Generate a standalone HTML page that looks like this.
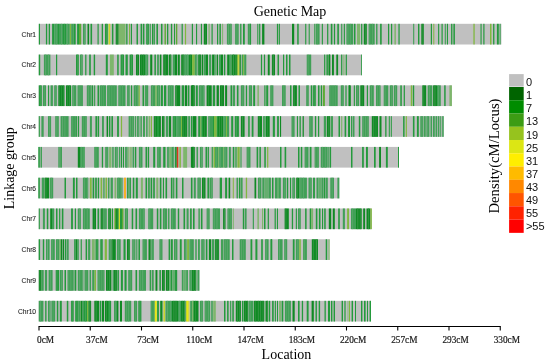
<!DOCTYPE html><html><head><meta charset="utf-8"><style>html,body{margin:0;padding:0;background:#fff;width:550px;height:364px;overflow:hidden}svg{display:block}</style></head><body><svg width="550" height="364" viewBox="0 0 550 364">
<rect width="550" height="364" fill="#fff"/>
<text x="290" y="16" font-family="Liberation Serif, serif" font-size="14" text-anchor="middle" fill="#000">Genetic Map</text>
<rect x="38.6" y="23.80" width="462.80" height="20.7" fill="#c0c0c0"/>
<rect x="38.9" y="23.80" width="1.10" height="20.7" fill="#249a3c"/>
<rect x="45.9" y="23.80" width="1.30" height="20.7" fill="#249a3c"/>
<rect x="97.5" y="23.80" width="1.20" height="20.7" fill="#249a3c"/>
<rect x="101.7" y="23.80" width="1.30" height="20.7" fill="#249a3c"/>
<rect x="105.0" y="23.80" width="2.80" height="20.7" fill="#249a3c"/>
<rect x="106.09" y="23.80" width="0.58" height="20.7" fill="#4ba45d"/>
<rect x="108.5" y="23.80" width="1.80" height="20.7" fill="#c8d62a"/>
<rect x="111.9" y="23.80" width="1.50" height="20.7" fill="#249a3c"/>
<rect x="115.7" y="23.80" width="3.00" height="20.7" fill="#108a24"/>
<rect x="116.64" y="23.80" width="0.77" height="20.7" fill="#3c984b"/>
<rect x="118.7" y="23.80" width="6.80" height="20.7" fill="#7eb66c"/>
<rect x="126.2" y="23.80" width="1.30" height="20.7" fill="#249a3c"/>
<rect x="129.0" y="23.80" width="1.00" height="20.7" fill="#80b840"/>
<rect x="130.8" y="23.80" width="1.20" height="20.7" fill="#249a3c"/>
<rect x="136.5" y="23.80" width="1.50" height="20.7" fill="#249a3c"/>
<rect x="140.6" y="23.80" width="1.50" height="20.7" fill="#249a3c"/>
<rect x="142.9" y="23.80" width="1.50" height="20.7" fill="#249a3c"/>
<rect x="146.2" y="23.80" width="2.70" height="20.7" fill="#249a3c"/>
<rect x="147.13" y="23.80" width="0.75" height="20.7" fill="#4ba45d"/>
<rect x="149.7" y="23.80" width="1.00" height="20.7" fill="#249a3c"/>
<rect x="152.0" y="23.80" width="1.50" height="20.7" fill="#249a3c"/>
<rect x="153.8" y="23.80" width="1.20" height="20.7" fill="#40a056"/>
<rect x="156.4" y="23.80" width="1.60" height="20.7" fill="#249a3c"/>
<rect x="161.0" y="23.80" width="1.50" height="20.7" fill="#249a3c"/>
<rect x="164.5" y="23.80" width="1.40" height="20.7" fill="#5caa34"/>
<rect x="167.0" y="23.80" width="1.30" height="20.7" fill="#249a3c"/>
<rect x="170.9" y="23.80" width="1.30" height="20.7" fill="#249a3c"/>
<rect x="174.6" y="23.80" width="0.40" height="20.7" fill="#249a3c"/>
<rect x="174.0" y="23.80" width="1.00" height="20.7" fill="#249a3c"/>
<rect x="175.9" y="23.80" width="1.40" height="20.7" fill="#5caa34"/>
<rect x="181.6" y="23.80" width="1.20" height="20.7" fill="#249a3c"/>
<rect x="184.9" y="23.80" width="1.20" height="20.7" fill="#80b840"/>
<rect x="191.8" y="23.80" width="1.20" height="20.7" fill="#249a3c"/>
<rect x="196.0" y="23.80" width="1.10" height="20.7" fill="#249a3c"/>
<rect x="200.9" y="23.80" width="1.10" height="20.7" fill="#249a3c"/>
<rect x="203.8" y="23.80" width="3.20" height="20.7" fill="#108a24"/>
<rect x="204.96" y="23.80" width="0.53" height="20.7" fill="#3c984b"/>
<rect x="208.5" y="23.80" width="1.20" height="20.7" fill="#7eb66c"/>
<rect x="211.5" y="23.80" width="1.20" height="20.7" fill="#249a3c"/>
<rect x="217.0" y="23.80" width="1.20" height="20.7" fill="#249a3c"/>
<rect x="219.4" y="23.80" width="1.50" height="20.7" fill="#249a3c"/>
<rect x="222.1" y="23.80" width="1.00" height="20.7" fill="#7eb66c"/>
<rect x="226.9" y="23.80" width="4.90" height="20.7" fill="#40a056"/>
<rect x="228.05" y="23.80" width="0.91" height="20.7" fill="#60a870"/>
<rect x="230.32" y="23.80" width="0.61" height="20.7" fill="#60a870"/>
<rect x="235.1" y="23.80" width="3.60" height="20.7" fill="#40a056"/>
<rect x="236.57" y="23.80" width="0.79" height="20.7" fill="#60a870"/>
<rect x="240.2" y="23.80" width="1.20" height="20.7" fill="#249a3c"/>
<rect x="243.0" y="23.80" width="1.80" height="20.7" fill="#249a3c"/>
<rect x="247.8" y="23.80" width="3.30" height="20.7" fill="#40a056"/>
<rect x="249.29" y="23.80" width="0.52" height="20.7" fill="#60a870"/>
<rect x="250.0" y="23.80" width="0.90" height="20.7" fill="#249a3c"/>
<rect x="257.3" y="23.80" width="1.00" height="20.7" fill="#249a3c"/>
<rect x="259.1" y="23.80" width="1.20" height="20.7" fill="#249a3c"/>
<rect x="262.1" y="23.80" width="2.30" height="20.7" fill="#108a24"/>
<rect x="276.9" y="23.80" width="1.10" height="20.7" fill="#249a3c"/>
<rect x="278.7" y="23.80" width="1.20" height="20.7" fill="#249a3c"/>
<rect x="292.0" y="23.80" width="2.20" height="20.7" fill="#108a24"/>
<rect x="297.2" y="23.80" width="1.50" height="20.7" fill="#249a3c"/>
<rect x="305.2" y="23.80" width="1.10" height="20.7" fill="#249a3c"/>
<rect x="308.7" y="23.80" width="1.00" height="20.7" fill="#249a3c"/>
<rect x="314.3" y="23.80" width="1.00" height="20.7" fill="#249a3c"/>
<rect x="315.8" y="23.80" width="3.80" height="20.7" fill="#40a056"/>
<rect x="316.87" y="23.80" width="0.57" height="20.7" fill="#60a870"/>
<rect x="321.8" y="23.80" width="1.10" height="20.7" fill="#249a3c"/>
<rect x="327.1" y="23.80" width="1.20" height="20.7" fill="#249a3c"/>
<rect x="330.8" y="23.80" width="1.60" height="20.7" fill="#249a3c"/>
<rect x="333.9" y="23.80" width="1.20" height="20.7" fill="#249a3c"/>
<rect x="337.3" y="23.80" width="1.60" height="20.7" fill="#249a3c"/>
<rect x="341.1" y="23.80" width="1.20" height="20.7" fill="#40a056"/>
<rect x="343.8" y="23.80" width="1.10" height="20.7" fill="#249a3c"/>
<rect x="346.4" y="23.80" width="6.80" height="20.7" fill="#40a056"/>
<rect x="347.49" y="23.80" width="0.91" height="20.7" fill="#60a870"/>
<rect x="349.81" y="23.80" width="0.79" height="20.7" fill="#60a870"/>
<rect x="354.0" y="23.80" width="1.50" height="20.7" fill="#249a3c"/>
<rect x="357.0" y="23.80" width="3.00" height="20.7" fill="#7eb66c"/>
<rect x="361.1" y="23.80" width="1.20" height="20.7" fill="#249a3c"/>
<rect x="363.8" y="23.80" width="3.00" height="20.7" fill="#108a24"/>
<rect x="364.92" y="23.80" width="0.77" height="20.7" fill="#3c984b"/>
<rect x="368.6" y="23.80" width="6.10" height="20.7" fill="#40a056"/>
<rect x="369.54" y="23.80" width="0.60" height="20.7" fill="#60a870"/>
<rect x="372.16" y="23.80" width="0.71" height="20.7" fill="#60a870"/>
<rect x="376.2" y="23.80" width="1.20" height="20.7" fill="#249a3c"/>
<rect x="380.1" y="23.80" width="1.60" height="20.7" fill="#249a3c"/>
<rect x="388.0" y="23.80" width="1.20" height="20.7" fill="#249a3c"/>
<rect x="391.0" y="23.80" width="1.20" height="20.7" fill="#249a3c"/>
<rect x="394.4" y="23.80" width="1.50" height="20.7" fill="#7eb66c"/>
<rect x="398.3" y="23.80" width="1.50" height="20.7" fill="#40a056"/>
<rect x="413.3" y="23.80" width="0.90" height="20.7" fill="#249a3c"/>
<rect x="418.0" y="23.80" width="1.40" height="20.7" fill="#249a3c"/>
<rect x="421.3" y="23.80" width="2.50" height="20.7" fill="#108a24"/>
<rect x="422.55" y="23.80" width="0.73" height="20.7" fill="#3c984b"/>
<rect x="430.8" y="23.80" width="1.20" height="20.7" fill="#249a3c"/>
<rect x="433.3" y="23.80" width="1.00" height="20.7" fill="#80b840"/>
<rect x="438.1" y="23.80" width="1.10" height="20.7" fill="#249a3c"/>
<rect x="441.5" y="23.80" width="1.20" height="20.7" fill="#249a3c"/>
<rect x="444.8" y="23.80" width="0.90" height="20.7" fill="#249a3c"/>
<rect x="446.9" y="23.80" width="1.10" height="20.7" fill="#249a3c"/>
<rect x="451.1" y="23.80" width="1.30" height="20.7" fill="#249a3c"/>
<rect x="453.4" y="23.80" width="1.50" height="20.7" fill="#249a3c"/>
<rect x="473.4" y="23.80" width="1.30" height="20.7" fill="#80b840"/>
<rect x="480.5" y="23.80" width="1.10" height="20.7" fill="#249a3c"/>
<rect x="483.3" y="23.80" width="1.20" height="20.7" fill="#249a3c"/>
<rect x="490.0" y="23.80" width="1.50" height="20.7" fill="#80b840"/>
<rect x="493.1" y="23.80" width="1.30" height="20.7" fill="#249a3c"/>
<rect x="496.9" y="23.80" width="1.90" height="20.7" fill="#249a3c"/>
<rect x="499.6" y="23.80" width="1.10" height="20.7" fill="#40a056"/>
<rect x="48.7" y="23.80" width="1.30" height="20.7" fill="#249a3c"/>
<rect x="52.1" y="23.80" width="2.30" height="20.7" fill="#249a3c"/>
<rect x="54.4" y="23.80" width="3.60" height="20.7" fill="#40a056"/>
<rect x="55.78" y="23.80" width="0.85" height="20.7" fill="#60a870"/>
<rect x="58.0" y="23.80" width="1.80" height="20.7" fill="#249a3c"/>
<rect x="59.8" y="23.80" width="3.20" height="20.7" fill="#40a056"/>
<rect x="61.04" y="23.80" width="0.76" height="20.7" fill="#60a870"/>
<rect x="63.0" y="23.80" width="3.20" height="20.7" fill="#249a3c"/>
<rect x="64.34" y="23.80" width="0.64" height="20.7" fill="#4ba45d"/>
<rect x="66.2" y="23.80" width="3.60" height="20.7" fill="#40a056"/>
<rect x="67.17" y="23.80" width="0.71" height="20.7" fill="#60a870"/>
<rect x="69.8" y="23.80" width="1.40" height="20.7" fill="#80b840"/>
<rect x="71.2" y="23.80" width="2.30" height="20.7" fill="#40a056"/>
<rect x="73.5" y="23.80" width="2.20" height="20.7" fill="#249a3c"/>
<rect x="77.1" y="23.80" width="1.90" height="20.7" fill="#249a3c"/>
<rect x="79.0" y="23.80" width="2.20" height="20.7" fill="#5caa34"/>
<rect x="83.0" y="23.80" width="2.70" height="20.7" fill="#40a056"/>
<rect x="83.99" y="23.80" width="0.74" height="20.7" fill="#60a870"/>
<rect x="87.5" y="23.80" width="1.60" height="20.7" fill="#108a24"/>
<rect x="90.5" y="23.80" width="1.60" height="20.7" fill="#249a3c"/>
<text x="36.1" y="36.60" font-family="Liberation Sans, sans-serif" font-size="6.7" text-anchor="end" fill="#222" stroke="#222" stroke-width="0.08">Chr1</text>
<rect x="38.6" y="54.58" width="323.40" height="20.7" fill="#c0c0c0"/>
<rect x="38.8" y="54.58" width="1.40" height="20.7" fill="#249a3c"/>
<rect x="43.9" y="54.58" width="6.50" height="20.7" fill="#40a056"/>
<rect x="45.20" y="54.58" width="0.88" height="20.7" fill="#60a870"/>
<rect x="47.97" y="54.58" width="0.94" height="20.7" fill="#60a870"/>
<rect x="56.0" y="54.58" width="1.20" height="20.7" fill="#249a3c"/>
<rect x="76.0" y="54.58" width="2.80" height="20.7" fill="#249a3c"/>
<rect x="77.32" y="54.58" width="0.80" height="20.7" fill="#4ba45d"/>
<rect x="80.0" y="54.58" width="2.80" height="20.7" fill="#40a056"/>
<rect x="81.17" y="54.58" width="0.92" height="20.7" fill="#60a870"/>
<rect x="85.0" y="54.58" width="1.50" height="20.7" fill="#40a056"/>
<rect x="89.0" y="54.58" width="2.00" height="20.7" fill="#40a056"/>
<rect x="93.7" y="54.58" width="1.40" height="20.7" fill="#249a3c"/>
<rect x="105.8" y="54.58" width="2.00" height="20.7" fill="#249a3c"/>
<rect x="109.9" y="54.58" width="3.90" height="20.7" fill="#7eb66c"/>
<rect x="117.2" y="54.58" width="1.50" height="20.7" fill="#249a3c"/>
<rect x="120.6" y="54.58" width="3.40" height="20.7" fill="#249a3c"/>
<rect x="121.78" y="54.58" width="0.83" height="20.7" fill="#4ba45d"/>
<rect x="125.5" y="54.58" width="2.30" height="20.7" fill="#249a3c"/>
<rect x="129.6" y="54.58" width="3.40" height="20.7" fill="#249a3c"/>
<rect x="130.92" y="54.58" width="0.82" height="20.7" fill="#4ba45d"/>
<rect x="136.0" y="54.58" width="3.00" height="20.7" fill="#108a24"/>
<rect x="137.39" y="54.58" width="0.64" height="20.7" fill="#3c984b"/>
<rect x="139.9" y="54.58" width="5.20" height="20.7" fill="#108a24"/>
<rect x="141.20" y="54.58" width="0.51" height="20.7" fill="#3c984b"/>
<rect x="143.47" y="54.58" width="0.58" height="20.7" fill="#3c984b"/>
<rect x="260.9" y="54.58" width="1.20" height="20.7" fill="#249a3c"/>
<rect x="263.9" y="54.58" width="1.20" height="20.7" fill="#249a3c"/>
<rect x="267.8" y="54.58" width="1.90" height="20.7" fill="#108a24"/>
<rect x="271.9" y="54.58" width="3.10" height="20.7" fill="#108a24"/>
<rect x="272.84" y="54.58" width="0.88" height="20.7" fill="#3c984b"/>
<rect x="277.5" y="54.58" width="1.50" height="20.7" fill="#249a3c"/>
<rect x="283.0" y="54.58" width="1.20" height="20.7" fill="#249a3c"/>
<rect x="286.0" y="54.58" width="1.50" height="20.7" fill="#249a3c"/>
<rect x="289.0" y="54.58" width="1.50" height="20.7" fill="#249a3c"/>
<rect x="306.7" y="54.58" width="4.50" height="20.7" fill="#40a056"/>
<rect x="307.75" y="54.58" width="0.70" height="20.7" fill="#60a870"/>
<rect x="324.1" y="54.58" width="1.20" height="20.7" fill="#249a3c"/>
<rect x="326.4" y="54.58" width="1.50" height="20.7" fill="#249a3c"/>
<rect x="328.6" y="54.58" width="1.40" height="20.7" fill="#108a24"/>
<rect x="330.0" y="54.58" width="0.20" height="20.7" fill="#108a24"/>
<rect x="328.7" y="54.58" width="1.50" height="20.7" fill="#108a24"/>
<rect x="332.0" y="54.58" width="1.90" height="20.7" fill="#108a24"/>
<rect x="336.3" y="54.58" width="1.80" height="20.7" fill="#108a24"/>
<rect x="341.1" y="54.58" width="1.20" height="20.7" fill="#249a3c"/>
<rect x="343.4" y="54.58" width="1.00" height="20.7" fill="#7eb66c"/>
<rect x="345.7" y="54.58" width="1.20" height="20.7" fill="#249a3c"/>
<rect x="361.2" y="54.58" width="0.80" height="20.7" fill="#249a3c"/>
<rect x="145.0" y="54.58" width="3.20" height="20.7" fill="#40a056"/>
<rect x="145.95" y="54.58" width="0.72" height="20.7" fill="#60a870"/>
<rect x="150.2" y="54.58" width="2.10" height="20.7" fill="#108a24"/>
<rect x="154.4" y="54.58" width="1.50" height="20.7" fill="#249a3c"/>
<rect x="157.1" y="54.58" width="1.80" height="20.7" fill="#40a056"/>
<rect x="159.8" y="54.58" width="1.60" height="20.7" fill="#108a24"/>
<rect x="163.2" y="54.58" width="5.00" height="20.7" fill="#108a24"/>
<rect x="164.63" y="54.58" width="0.91" height="20.7" fill="#3c984b"/>
<rect x="168.9" y="54.58" width="2.50" height="20.7" fill="#108a24"/>
<rect x="169.97" y="54.58" width="0.71" height="20.7" fill="#3c984b"/>
<rect x="172.7" y="54.58" width="2.30" height="20.7" fill="#40a056"/>
<rect x="175.0" y="54.58" width="2.30" height="20.7" fill="#108a24"/>
<rect x="178.0" y="54.58" width="1.80" height="20.7" fill="#108a24"/>
<rect x="181.2" y="54.58" width="2.70" height="20.7" fill="#108a24"/>
<rect x="182.63" y="54.58" width="0.98" height="20.7" fill="#3c984b"/>
<rect x="183.9" y="54.58" width="5.00" height="20.7" fill="#40a056"/>
<rect x="184.91" y="54.58" width="0.62" height="20.7" fill="#60a870"/>
<rect x="187.00" y="54.58" width="0.74" height="20.7" fill="#60a870"/>
<rect x="188.9" y="54.58" width="3.20" height="20.7" fill="#108a24"/>
<rect x="189.96" y="54.58" width="0.50" height="20.7" fill="#3c984b"/>
<rect x="192.1" y="54.58" width="2.70" height="20.7" fill="#80b840"/>
<rect x="194.8" y="54.58" width="2.70" height="20.7" fill="#40a056"/>
<rect x="195.92" y="54.58" width="0.78" height="20.7" fill="#60a870"/>
<rect x="198.2" y="54.58" width="3.00" height="20.7" fill="#108a24"/>
<rect x="199.51" y="54.58" width="0.76" height="20.7" fill="#3c984b"/>
<rect x="201.8" y="54.58" width="1.50" height="20.7" fill="#108a24"/>
<rect x="203.9" y="54.58" width="2.10" height="20.7" fill="#40a056"/>
<rect x="206.0" y="54.58" width="2.00" height="20.7" fill="#108a24"/>
<rect x="209.1" y="54.58" width="2.10" height="20.7" fill="#40a056"/>
<rect x="212.1" y="54.58" width="2.30" height="20.7" fill="#108a24"/>
<rect x="214.4" y="54.58" width="1.30" height="20.7" fill="#40a056"/>
<rect x="216.6" y="54.58" width="1.40" height="20.7" fill="#108a24"/>
<rect x="218.9" y="54.58" width="2.10" height="20.7" fill="#40a056"/>
<rect x="221.0" y="54.58" width="2.00" height="20.7" fill="#108a24"/>
<rect x="223.9" y="54.58" width="1.40" height="20.7" fill="#249a3c"/>
<rect x="227.2" y="54.58" width="1.80" height="20.7" fill="#108a24"/>
<rect x="229.0" y="54.58" width="2.70" height="20.7" fill="#40a056"/>
<rect x="230.31" y="54.58" width="0.53" height="20.7" fill="#60a870"/>
<rect x="231.7" y="54.58" width="4.10" height="20.7" fill="#108a24"/>
<rect x="233.07" y="54.58" width="0.94" height="20.7" fill="#3c984b"/>
<rect x="235.8" y="54.58" width="1.10" height="20.7" fill="#108a24"/>
<rect x="236.9" y="54.58" width="1.30" height="20.7" fill="#80b840"/>
<rect x="238.2" y="54.58" width="1.30" height="20.7" fill="#c8d62a"/>
<rect x="239.5" y="54.58" width="1.30" height="20.7" fill="#108a24"/>
<rect x="241.7" y="54.58" width="1.40" height="20.7" fill="#40a056"/>
<rect x="243.1" y="54.58" width="1.10" height="20.7" fill="#80b840"/>
<rect x="244.2" y="54.58" width="2.10" height="20.7" fill="#40a056"/>
<text x="36.1" y="67.38" font-family="Liberation Sans, sans-serif" font-size="6.7" text-anchor="end" fill="#222" stroke="#222" stroke-width="0.08">Chr2</text>
<rect x="38.6" y="85.36" width="413.30" height="20.7" fill="#c0c0c0"/>
<rect x="38.8" y="85.36" width="3.00" height="20.7" fill="#249a3c"/>
<rect x="39.94" y="85.36" width="0.70" height="20.7" fill="#4ba45d"/>
<rect x="42.9" y="85.36" width="3.10" height="20.7" fill="#40a056"/>
<rect x="44.18" y="85.36" width="0.53" height="20.7" fill="#60a870"/>
<rect x="48.0" y="85.36" width="1.10" height="20.7" fill="#249a3c"/>
<rect x="50.6" y="85.36" width="2.30" height="20.7" fill="#40a056"/>
<rect x="54.2" y="85.36" width="2.60" height="20.7" fill="#40a056"/>
<rect x="55.23" y="85.36" width="0.58" height="20.7" fill="#60a870"/>
<rect x="58.3" y="85.36" width="6.20" height="20.7" fill="#108a24"/>
<rect x="59.23" y="85.36" width="0.50" height="20.7" fill="#3c984b"/>
<rect x="61.11" y="85.36" width="0.55" height="20.7" fill="#3c984b"/>
<rect x="63.30" y="85.36" width="0.51" height="20.7" fill="#3c984b"/>
<rect x="66.0" y="85.36" width="5.10" height="20.7" fill="#108a24"/>
<rect x="67.27" y="85.36" width="0.57" height="20.7" fill="#3c984b"/>
<rect x="69.35" y="85.36" width="0.67" height="20.7" fill="#3c984b"/>
<rect x="72.2" y="85.36" width="4.10" height="20.7" fill="#40a056"/>
<rect x="73.17" y="85.36" width="0.92" height="20.7" fill="#60a870"/>
<rect x="77.5" y="85.36" width="5.40" height="20.7" fill="#40a056"/>
<rect x="78.68" y="85.36" width="0.74" height="20.7" fill="#60a870"/>
<rect x="80.72" y="85.36" width="0.55" height="20.7" fill="#60a870"/>
<rect x="86.8" y="85.36" width="4.60" height="20.7" fill="#40a056"/>
<rect x="87.86" y="85.36" width="0.91" height="20.7" fill="#60a870"/>
<rect x="90.17" y="85.36" width="0.51" height="20.7" fill="#60a870"/>
<rect x="91.7" y="85.36" width="1.50" height="20.7" fill="#249a3c"/>
<rect x="94.2" y="85.36" width="1.00" height="20.7" fill="#249a3c"/>
<rect x="97.5" y="85.36" width="1.60" height="20.7" fill="#249a3c"/>
<rect x="99.8" y="85.36" width="6.20" height="20.7" fill="#40a056"/>
<rect x="101.02" y="85.36" width="0.57" height="20.7" fill="#60a870"/>
<rect x="103.44" y="85.36" width="0.51" height="20.7" fill="#60a870"/>
<rect x="107.1" y="85.36" width="9.70" height="20.7" fill="#40a056"/>
<rect x="108.59" y="85.36" width="0.93" height="20.7" fill="#60a870"/>
<rect x="111.55" y="85.36" width="0.63" height="20.7" fill="#60a870"/>
<rect x="113.82" y="85.36" width="0.58" height="20.7" fill="#60a870"/>
<rect x="118.3" y="85.36" width="7.20" height="20.7" fill="#40a056"/>
<rect x="119.52" y="85.36" width="0.89" height="20.7" fill="#60a870"/>
<rect x="122.00" y="85.36" width="0.61" height="20.7" fill="#60a870"/>
<rect x="127.1" y="85.36" width="2.60" height="20.7" fill="#40a056"/>
<rect x="128.59" y="85.36" width="0.93" height="20.7" fill="#60a870"/>
<rect x="130.9" y="85.36" width="1.30" height="20.7" fill="#249a3c"/>
<rect x="133.7" y="85.36" width="4.90" height="20.7" fill="#40a056"/>
<rect x="135.09" y="85.36" width="0.87" height="20.7" fill="#60a870"/>
<rect x="137.43" y="85.36" width="0.76" height="20.7" fill="#60a870"/>
<rect x="138.6" y="85.36" width="1.20" height="20.7" fill="#80b840"/>
<rect x="142.5" y="85.36" width="1.50" height="20.7" fill="#249a3c"/>
<rect x="144.8" y="85.36" width="3.40" height="20.7" fill="#40a056"/>
<rect x="145.72" y="85.36" width="0.51" height="20.7" fill="#60a870"/>
<rect x="150.9" y="85.36" width="4.10" height="20.7" fill="#40a056"/>
<rect x="151.96" y="85.36" width="0.85" height="20.7" fill="#60a870"/>
<rect x="155.0" y="85.36" width="2.00" height="20.7" fill="#7eb66c"/>
<rect x="157.0" y="85.36" width="3.20" height="20.7" fill="#40a056"/>
<rect x="158.17" y="85.36" width="0.97" height="20.7" fill="#60a870"/>
<rect x="160.9" y="85.36" width="2.00" height="20.7" fill="#249a3c"/>
<rect x="164.0" y="85.36" width="2.30" height="20.7" fill="#249a3c"/>
<rect x="167.8" y="85.36" width="5.90" height="20.7" fill="#40a056"/>
<rect x="169.27" y="85.36" width="0.68" height="20.7" fill="#60a870"/>
<rect x="171.42" y="85.36" width="0.61" height="20.7" fill="#60a870"/>
<rect x="175.2" y="85.36" width="5.00" height="20.7" fill="#108a24"/>
<rect x="176.22" y="85.36" width="0.81" height="20.7" fill="#3c984b"/>
<rect x="181.7" y="85.36" width="2.30" height="20.7" fill="#249a3c"/>
<rect x="184.8" y="85.36" width="2.30" height="20.7" fill="#108a24"/>
<rect x="187.8" y="85.36" width="1.60" height="20.7" fill="#249a3c"/>
<rect x="190.9" y="85.36" width="3.10" height="20.7" fill="#108a24"/>
<rect x="192.30" y="85.36" width="0.74" height="20.7" fill="#3c984b"/>
<rect x="192.0" y="85.36" width="2.80" height="20.7" fill="#108a24"/>
<rect x="193.38" y="85.36" width="0.54" height="20.7" fill="#3c984b"/>
<rect x="195.8" y="85.36" width="2.00" height="20.7" fill="#249a3c"/>
<rect x="198.9" y="85.36" width="5.70" height="20.7" fill="#40a056"/>
<rect x="200.35" y="85.36" width="0.89" height="20.7" fill="#60a870"/>
<rect x="203.34" y="85.36" width="0.74" height="20.7" fill="#60a870"/>
<rect x="206.6" y="85.36" width="5.10" height="20.7" fill="#108a24"/>
<rect x="207.97" y="85.36" width="0.67" height="20.7" fill="#3c984b"/>
<rect x="212.8" y="85.36" width="2.30" height="20.7" fill="#249a3c"/>
<rect x="216.6" y="85.36" width="2.30" height="20.7" fill="#108a24"/>
<rect x="220.0" y="85.36" width="4.00" height="20.7" fill="#108a24"/>
<rect x="221.48" y="85.36" width="0.70" height="20.7" fill="#3c984b"/>
<rect x="225.1" y="85.36" width="2.00" height="20.7" fill="#108a24"/>
<rect x="230.5" y="85.36" width="1.80" height="20.7" fill="#249a3c"/>
<rect x="233.2" y="85.36" width="1.60" height="20.7" fill="#249a3c"/>
<rect x="236.9" y="85.36" width="1.60" height="20.7" fill="#249a3c"/>
<rect x="240.9" y="85.36" width="3.40" height="20.7" fill="#40a056"/>
<rect x="242.37" y="85.36" width="0.86" height="20.7" fill="#60a870"/>
<rect x="245.8" y="85.36" width="1.30" height="20.7" fill="#249a3c"/>
<rect x="248.9" y="85.36" width="3.10" height="20.7" fill="#40a056"/>
<rect x="249.88" y="85.36" width="0.58" height="20.7" fill="#60a870"/>
<rect x="253.2" y="85.36" width="1.90" height="20.7" fill="#249a3c"/>
<rect x="257.4" y="85.36" width="1.50" height="20.7" fill="#7eb66c"/>
<rect x="264.3" y="85.36" width="1.20" height="20.7" fill="#249a3c"/>
<rect x="266.2" y="85.36" width="2.00" height="20.7" fill="#249a3c"/>
<rect x="270.2" y="85.36" width="3.20" height="20.7" fill="#40a056"/>
<rect x="271.58" y="85.36" width="0.57" height="20.7" fill="#60a870"/>
<rect x="282.0" y="85.36" width="3.70" height="20.7" fill="#40a056"/>
<rect x="283.49" y="85.36" width="0.83" height="20.7" fill="#60a870"/>
<rect x="290.0" y="85.36" width="1.50" height="20.7" fill="#249a3c"/>
<rect x="293.1" y="85.36" width="3.80" height="20.7" fill="#108a24"/>
<rect x="294.33" y="85.36" width="0.57" height="20.7" fill="#3c984b"/>
<rect x="298.5" y="85.36" width="1.50" height="20.7" fill="#249a3c"/>
<rect x="306.2" y="85.36" width="2.60" height="20.7" fill="#40a056"/>
<rect x="307.68" y="85.36" width="0.82" height="20.7" fill="#60a870"/>
<rect x="310.8" y="85.36" width="1.50" height="20.7" fill="#249a3c"/>
<rect x="313.1" y="85.36" width="2.70" height="20.7" fill="#249a3c"/>
<rect x="314.56" y="85.36" width="0.72" height="20.7" fill="#4ba45d"/>
<rect x="318.0" y="85.36" width="1.50" height="20.7" fill="#249a3c"/>
<rect x="320.8" y="85.36" width="1.20" height="20.7" fill="#249a3c"/>
<rect x="322.8" y="85.36" width="2.10" height="20.7" fill="#5caa34"/>
<rect x="329.2" y="85.36" width="8.50" height="20.7" fill="#40a056"/>
<rect x="330.60" y="85.36" width="0.61" height="20.7" fill="#60a870"/>
<rect x="332.70" y="85.36" width="0.65" height="20.7" fill="#60a870"/>
<rect x="334.84" y="85.36" width="0.79" height="20.7" fill="#60a870"/>
<rect x="340.8" y="85.36" width="3.00" height="20.7" fill="#40a056"/>
<rect x="341.95" y="85.36" width="0.57" height="20.7" fill="#60a870"/>
<rect x="345.4" y="85.36" width="1.20" height="20.7" fill="#249a3c"/>
<rect x="348.5" y="85.36" width="1.50" height="20.7" fill="#249a3c"/>
<rect x="348.8" y="85.36" width="2.00" height="20.7" fill="#108a24"/>
<rect x="353.8" y="85.36" width="1.10" height="20.7" fill="#249a3c"/>
<rect x="356.0" y="85.36" width="3.10" height="20.7" fill="#40a056"/>
<rect x="357.11" y="85.36" width="0.73" height="20.7" fill="#60a870"/>
<rect x="360.3" y="85.36" width="3.90" height="20.7" fill="#108a24"/>
<rect x="361.74" y="85.36" width="0.71" height="20.7" fill="#3c984b"/>
<rect x="366.8" y="85.36" width="1.20" height="20.7" fill="#249a3c"/>
<rect x="369.8" y="85.36" width="4.00" height="20.7" fill="#40a056"/>
<rect x="371.00" y="85.36" width="0.77" height="20.7" fill="#60a870"/>
<rect x="376.0" y="85.36" width="4.60" height="20.7" fill="#40a056"/>
<rect x="376.91" y="85.36" width="0.72" height="20.7" fill="#60a870"/>
<rect x="379.05" y="85.36" width="0.50" height="20.7" fill="#60a870"/>
<rect x="383.7" y="85.36" width="4.60" height="20.7" fill="#40a056"/>
<rect x="384.70" y="85.36" width="0.74" height="20.7" fill="#60a870"/>
<rect x="389.8" y="85.36" width="3.10" height="20.7" fill="#40a056"/>
<rect x="391.03" y="85.36" width="0.66" height="20.7" fill="#60a870"/>
<rect x="393.8" y="85.36" width="3.40" height="20.7" fill="#40a056"/>
<rect x="395.03" y="85.36" width="0.89" height="20.7" fill="#60a870"/>
<rect x="400.3" y="85.36" width="1.50" height="20.7" fill="#249a3c"/>
<rect x="403.7" y="85.36" width="1.20" height="20.7" fill="#249a3c"/>
<rect x="410.8" y="85.36" width="1.50" height="20.7" fill="#80b840"/>
<rect x="412.9" y="85.36" width="1.30" height="20.7" fill="#249a3c"/>
<rect x="422.3" y="85.36" width="3.90" height="20.7" fill="#108a24"/>
<rect x="423.54" y="85.36" width="0.62" height="20.7" fill="#3c984b"/>
<rect x="427.7" y="85.36" width="4.60" height="20.7" fill="#40a056"/>
<rect x="429.06" y="85.36" width="0.75" height="20.7" fill="#60a870"/>
<rect x="433.1" y="85.36" width="3.90" height="20.7" fill="#108a24"/>
<rect x="434.46" y="85.36" width="0.96" height="20.7" fill="#3c984b"/>
<rect x="437.0" y="85.36" width="3.80" height="20.7" fill="#40a056"/>
<rect x="438.27" y="85.36" width="0.75" height="20.7" fill="#60a870"/>
<rect x="444.0" y="85.36" width="1.80" height="20.7" fill="#40a056"/>
<rect x="449.4" y="85.36" width="2.50" height="20.7" fill="#7eb66c"/>
<text x="36.1" y="98.16" font-family="Liberation Sans, sans-serif" font-size="6.7" text-anchor="end" fill="#222" stroke="#222" stroke-width="0.08">Chr3</text>
<rect x="38.6" y="116.14" width="405.10" height="20.7" fill="#c0c0c0"/>
<rect x="38.8" y="116.14" width="1.00" height="20.7" fill="#249a3c"/>
<rect x="41.4" y="116.14" width="2.30" height="20.7" fill="#40a056"/>
<rect x="48.0" y="116.14" width="3.10" height="20.7" fill="#40a056"/>
<rect x="49.32" y="116.14" width="0.73" height="20.7" fill="#60a870"/>
<rect x="55.2" y="116.14" width="3.60" height="20.7" fill="#40a056"/>
<rect x="56.39" y="116.14" width="0.97" height="20.7" fill="#60a870"/>
<rect x="60.6" y="116.14" width="8.00" height="20.7" fill="#40a056"/>
<rect x="62.03" y="116.14" width="0.97" height="20.7" fill="#60a870"/>
<rect x="64.51" y="116.14" width="0.78" height="20.7" fill="#60a870"/>
<rect x="71.1" y="116.14" width="2.90" height="20.7" fill="#40a056"/>
<rect x="72.50" y="116.14" width="0.57" height="20.7" fill="#60a870"/>
<rect x="74.0" y="116.14" width="1.80" height="20.7" fill="#40a056"/>
<rect x="75.8" y="116.14" width="1.10" height="20.7" fill="#249a3c"/>
<rect x="77.8" y="116.14" width="1.30" height="20.7" fill="#249a3c"/>
<rect x="81.8" y="116.14" width="5.00" height="20.7" fill="#40a056"/>
<rect x="82.97" y="116.14" width="0.54" height="20.7" fill="#60a870"/>
<rect x="84.99" y="116.14" width="0.54" height="20.7" fill="#60a870"/>
<rect x="89.9" y="116.14" width="2.00" height="20.7" fill="#40a056"/>
<rect x="95.4" y="116.14" width="1.60" height="20.7" fill="#249a3c"/>
<rect x="97.6" y="116.14" width="1.50" height="20.7" fill="#249a3c"/>
<rect x="102.0" y="116.14" width="1.90" height="20.7" fill="#40a056"/>
<rect x="106.6" y="116.14" width="1.40" height="20.7" fill="#108a24"/>
<rect x="108.9" y="116.14" width="1.50" height="20.7" fill="#249a3c"/>
<rect x="111.4" y="116.14" width="1.60" height="20.7" fill="#249a3c"/>
<rect x="117.1" y="116.14" width="1.80" height="20.7" fill="#249a3c"/>
<rect x="120.9" y="116.14" width="1.20" height="20.7" fill="#80b840"/>
<rect x="128.6" y="116.14" width="5.40" height="20.7" fill="#40a056"/>
<rect x="129.97" y="116.14" width="0.95" height="20.7" fill="#60a870"/>
<rect x="132.30" y="116.14" width="0.86" height="20.7" fill="#60a870"/>
<rect x="134.8" y="116.14" width="1.00" height="20.7" fill="#249a3c"/>
<rect x="136.8" y="116.14" width="2.60" height="20.7" fill="#40a056"/>
<rect x="137.79" y="116.14" width="0.94" height="20.7" fill="#60a870"/>
<rect x="140.5" y="116.14" width="1.20" height="20.7" fill="#249a3c"/>
<rect x="143.2" y="116.14" width="1.60" height="20.7" fill="#249a3c"/>
<rect x="146.3" y="116.14" width="1.20" height="20.7" fill="#249a3c"/>
<rect x="148.6" y="116.14" width="1.60" height="20.7" fill="#7eb66c"/>
<rect x="231.2" y="116.14" width="2.00" height="20.7" fill="#249a3c"/>
<rect x="234.8" y="116.14" width="4.10" height="20.7" fill="#249a3c"/>
<rect x="235.83" y="116.14" width="0.98" height="20.7" fill="#4ba45d"/>
<rect x="240.9" y="116.14" width="3.70" height="20.7" fill="#108a24"/>
<rect x="242.09" y="116.14" width="0.99" height="20.7" fill="#3c984b"/>
<rect x="248.2" y="116.14" width="1.50" height="20.7" fill="#249a3c"/>
<rect x="251.7" y="116.14" width="1.80" height="20.7" fill="#249a3c"/>
<rect x="257.8" y="116.14" width="4.20" height="20.7" fill="#108a24"/>
<rect x="258.80" y="116.14" width="0.72" height="20.7" fill="#3c984b"/>
<rect x="263.1" y="116.14" width="2.50" height="20.7" fill="#40a056"/>
<rect x="264.20" y="116.14" width="0.60" height="20.7" fill="#60a870"/>
<rect x="265.9" y="116.14" width="3.80" height="20.7" fill="#108a24"/>
<rect x="267.23" y="116.14" width="0.51" height="20.7" fill="#3c984b"/>
<rect x="272.8" y="116.14" width="2.10" height="20.7" fill="#249a3c"/>
<rect x="277.1" y="116.14" width="1.80" height="20.7" fill="#249a3c"/>
<rect x="280.0" y="116.14" width="1.10" height="20.7" fill="#108a24"/>
<rect x="291.5" y="116.14" width="3.10" height="20.7" fill="#40a056"/>
<rect x="292.66" y="116.14" width="0.51" height="20.7" fill="#60a870"/>
<rect x="296.9" y="116.14" width="1.10" height="20.7" fill="#249a3c"/>
<rect x="299.5" y="116.14" width="1.30" height="20.7" fill="#249a3c"/>
<rect x="302.6" y="116.14" width="1.20" height="20.7" fill="#108a24"/>
<rect x="309.2" y="116.14" width="3.60" height="20.7" fill="#40a056"/>
<rect x="310.47" y="116.14" width="0.76" height="20.7" fill="#60a870"/>
<rect x="314.9" y="116.14" width="1.30" height="20.7" fill="#249a3c"/>
<rect x="318.0" y="116.14" width="1.20" height="20.7" fill="#249a3c"/>
<rect x="323.8" y="116.14" width="2.40" height="20.7" fill="#40a056"/>
<rect x="326.9" y="116.14" width="3.40" height="20.7" fill="#108a24"/>
<rect x="328.39" y="116.14" width="0.89" height="20.7" fill="#3c984b"/>
<rect x="331.2" y="116.14" width="1.60" height="20.7" fill="#249a3c"/>
<rect x="338.5" y="116.14" width="1.50" height="20.7" fill="#249a3c"/>
<rect x="341.1" y="116.14" width="1.20" height="20.7" fill="#7eb66c"/>
<rect x="344.6" y="116.14" width="1.60" height="20.7" fill="#249a3c"/>
<rect x="348.2" y="116.14" width="1.80" height="20.7" fill="#108a24"/>
<rect x="348.3" y="116.14" width="1.50" height="20.7" fill="#249a3c"/>
<rect x="351.1" y="116.14" width="1.20" height="20.7" fill="#249a3c"/>
<rect x="352.9" y="116.14" width="1.60" height="20.7" fill="#40a056"/>
<rect x="358.8" y="116.14" width="1.50" height="20.7" fill="#249a3c"/>
<rect x="362.2" y="116.14" width="6.60" height="20.7" fill="#40a056"/>
<rect x="363.16" y="116.14" width="0.63" height="20.7" fill="#60a870"/>
<rect x="365.04" y="116.14" width="0.89" height="20.7" fill="#60a870"/>
<rect x="367.46" y="116.14" width="0.56" height="20.7" fill="#60a870"/>
<rect x="371.8" y="116.14" width="6.20" height="20.7" fill="#108a24"/>
<rect x="373.25" y="116.14" width="0.91" height="20.7" fill="#3c984b"/>
<rect x="375.67" y="116.14" width="0.57" height="20.7" fill="#3c984b"/>
<rect x="379.5" y="116.14" width="2.00" height="20.7" fill="#108a24"/>
<rect x="385.2" y="116.14" width="1.30" height="20.7" fill="#249a3c"/>
<rect x="388.8" y="116.14" width="1.00" height="20.7" fill="#249a3c"/>
<rect x="390.8" y="116.14" width="1.00" height="20.7" fill="#249a3c"/>
<rect x="403.1" y="116.14" width="1.50" height="20.7" fill="#249a3c"/>
<rect x="405.7" y="116.14" width="1.20" height="20.7" fill="#80b840"/>
<rect x="412.9" y="116.14" width="1.60" height="20.7" fill="#249a3c"/>
<rect x="416.9" y="116.14" width="1.90" height="20.7" fill="#249a3c"/>
<rect x="420.3" y="116.14" width="3.10" height="20.7" fill="#40a056"/>
<rect x="421.54" y="116.14" width="0.85" height="20.7" fill="#60a870"/>
<rect x="424.2" y="116.14" width="1.40" height="20.7" fill="#249a3c"/>
<rect x="426.4" y="116.14" width="3.00" height="20.7" fill="#40a056"/>
<rect x="427.33" y="116.14" width="0.84" height="20.7" fill="#60a870"/>
<rect x="430.5" y="116.14" width="1.50" height="20.7" fill="#40a056"/>
<rect x="432.9" y="116.14" width="1.90" height="20.7" fill="#40a056"/>
<rect x="435.5" y="116.14" width="1.60" height="20.7" fill="#40a056"/>
<rect x="437.8" y="116.14" width="1.60" height="20.7" fill="#40a056"/>
<rect x="440.2" y="116.14" width="1.00" height="20.7" fill="#40a056"/>
<rect x="442.2" y="116.14" width="1.50" height="20.7" fill="#40a056"/>
<rect x="150.9" y="116.14" width="1.10" height="20.7" fill="#80b840"/>
<rect x="153.8" y="116.14" width="3.20" height="20.7" fill="#108a24"/>
<rect x="154.74" y="116.14" width="0.97" height="20.7" fill="#3c984b"/>
<rect x="157.0" y="116.14" width="2.00" height="20.7" fill="#249a3c"/>
<rect x="159.0" y="116.14" width="1.90" height="20.7" fill="#108a24"/>
<rect x="162.0" y="116.14" width="2.50" height="20.7" fill="#108a24"/>
<rect x="163.38" y="116.14" width="0.54" height="20.7" fill="#3c984b"/>
<rect x="165.9" y="116.14" width="2.30" height="20.7" fill="#40a056"/>
<rect x="168.9" y="116.14" width="2.20" height="20.7" fill="#108a24"/>
<rect x="172.7" y="116.14" width="3.70" height="20.7" fill="#249a3c"/>
<rect x="173.64" y="116.14" width="0.93" height="20.7" fill="#4ba45d"/>
<rect x="176.4" y="116.14" width="4.60" height="20.7" fill="#40a056"/>
<rect x="177.50" y="116.14" width="0.78" height="20.7" fill="#60a870"/>
<rect x="181.0" y="116.14" width="1.10" height="20.7" fill="#80b840"/>
<rect x="182.1" y="116.14" width="5.20" height="20.7" fill="#108a24"/>
<rect x="183.16" y="116.14" width="0.56" height="20.7" fill="#3c984b"/>
<rect x="185.56" y="116.14" width="0.62" height="20.7" fill="#3c984b"/>
<rect x="188.2" y="116.14" width="1.80" height="20.7" fill="#40a056"/>
<rect x="190.9" y="116.14" width="1.40" height="20.7" fill="#249a3c"/>
<rect x="192.7" y="116.14" width="2.30" height="20.7" fill="#108a24"/>
<rect x="195.0" y="116.14" width="1.40" height="20.7" fill="#108a24"/>
<rect x="198.2" y="116.14" width="2.30" height="20.7" fill="#249a3c"/>
<rect x="200.5" y="116.14" width="0.90" height="20.7" fill="#80b840"/>
<rect x="201.4" y="116.14" width="1.60" height="20.7" fill="#249a3c"/>
<rect x="203.0" y="116.14" width="3.80" height="20.7" fill="#108a24"/>
<rect x="204.00" y="116.14" width="0.53" height="20.7" fill="#3c984b"/>
<rect x="208.2" y="116.14" width="4.80" height="20.7" fill="#40a056"/>
<rect x="209.29" y="116.14" width="0.65" height="20.7" fill="#60a870"/>
<rect x="213.0" y="116.14" width="1.00" height="20.7" fill="#249a3c"/>
<rect x="214.0" y="116.14" width="2.80" height="20.7" fill="#80b840"/>
<rect x="216.8" y="116.14" width="1.20" height="20.7" fill="#249a3c"/>
<rect x="218.0" y="116.14" width="5.20" height="20.7" fill="#108a24"/>
<rect x="219.07" y="116.14" width="0.75" height="20.7" fill="#3c984b"/>
<rect x="221.24" y="116.14" width="0.67" height="20.7" fill="#3c984b"/>
<rect x="223.2" y="116.14" width="2.80" height="20.7" fill="#40a056"/>
<rect x="224.25" y="116.14" width="0.51" height="20.7" fill="#60a870"/>
<rect x="226.0" y="116.14" width="1.00" height="20.7" fill="#80b840"/>
<rect x="227.0" y="116.14" width="2.10" height="20.7" fill="#40a056"/>
<text x="36.1" y="128.94" font-family="Liberation Sans, sans-serif" font-size="6.7" text-anchor="end" fill="#222" stroke="#222" stroke-width="0.08">Chr4</text>
<rect x="38.6" y="146.92" width="360.40" height="20.7" fill="#c0c0c0"/>
<rect x="38.3" y="146.92" width="1.50" height="20.7" fill="#249a3c"/>
<rect x="40.6" y="146.92" width="1.20" height="20.7" fill="#249a3c"/>
<rect x="58.3" y="146.92" width="1.50" height="20.7" fill="#40a056"/>
<rect x="60.3" y="146.92" width="1.50" height="20.7" fill="#249a3c"/>
<rect x="77.8" y="146.92" width="2.20" height="20.7" fill="#108a24"/>
<rect x="80.0" y="146.92" width="4.90" height="20.7" fill="#40a056"/>
<rect x="81.23" y="146.92" width="0.59" height="20.7" fill="#60a870"/>
<rect x="83.60" y="146.92" width="0.97" height="20.7" fill="#60a870"/>
<rect x="94.2" y="146.92" width="4.60" height="20.7" fill="#40a056"/>
<rect x="95.59" y="146.92" width="0.72" height="20.7" fill="#60a870"/>
<rect x="101.8" y="146.92" width="1.30" height="20.7" fill="#249a3c"/>
<rect x="105.2" y="146.92" width="3.10" height="20.7" fill="#40a056"/>
<rect x="106.60" y="146.92" width="0.70" height="20.7" fill="#60a870"/>
<rect x="109.1" y="146.92" width="2.30" height="20.7" fill="#7eb66c"/>
<rect x="112.2" y="146.92" width="1.50" height="20.7" fill="#40a056"/>
<rect x="114.8" y="146.92" width="3.00" height="20.7" fill="#40a056"/>
<rect x="116.11" y="146.92" width="0.99" height="20.7" fill="#60a870"/>
<rect x="118.9" y="146.92" width="1.30" height="20.7" fill="#40a056"/>
<rect x="120.9" y="146.92" width="1.10" height="20.7" fill="#249a3c"/>
<rect x="122.9" y="146.92" width="1.10" height="20.7" fill="#249a3c"/>
<rect x="125.1" y="146.92" width="2.40" height="20.7" fill="#40a056"/>
<rect x="126.50" y="146.92" width="0.85" height="20.7" fill="#60a870"/>
<rect x="128.2" y="146.92" width="1.20" height="20.7" fill="#7eb66c"/>
<rect x="130.2" y="146.92" width="1.50" height="20.7" fill="#7eb66c"/>
<rect x="132.5" y="146.92" width="1.50" height="20.7" fill="#40a056"/>
<rect x="134.8" y="146.92" width="1.50" height="20.7" fill="#249a3c"/>
<rect x="138.9" y="146.92" width="3.60" height="20.7" fill="#40a056"/>
<rect x="140.04" y="146.92" width="0.67" height="20.7" fill="#60a870"/>
<rect x="145.5" y="146.92" width="1.60" height="20.7" fill="#249a3c"/>
<rect x="147.8" y="146.92" width="1.30" height="20.7" fill="#249a3c"/>
<rect x="153.2" y="146.92" width="2.00" height="20.7" fill="#249a3c"/>
<rect x="157.1" y="146.92" width="3.80" height="20.7" fill="#40a056"/>
<rect x="158.08" y="146.92" width="0.54" height="20.7" fill="#60a870"/>
<rect x="163.2" y="146.92" width="2.30" height="20.7" fill="#249a3c"/>
<rect x="167.1" y="146.92" width="2.40" height="20.7" fill="#40a056"/>
<rect x="168.15" y="146.92" width="0.58" height="20.7" fill="#60a870"/>
<rect x="169.5" y="146.92" width="2.00" height="20.7" fill="#7eb66c"/>
<rect x="171.5" y="146.92" width="2.50" height="20.7" fill="#40a056"/>
<rect x="172.90" y="146.92" width="0.94" height="20.7" fill="#60a870"/>
<rect x="174.8" y="146.92" width="2.00" height="20.7" fill="#249a3c"/>
<rect x="176.8" y="146.92" width="1.50" height="20.7" fill="#d83a1a"/>
<rect x="179.4" y="146.92" width="1.50" height="20.7" fill="#80b840"/>
<rect x="183.2" y="146.92" width="3.90" height="20.7" fill="#7eb66c"/>
<rect x="190.9" y="146.92" width="3.10" height="20.7" fill="#108a24"/>
<rect x="191.97" y="146.92" width="0.62" height="20.7" fill="#3c984b"/>
<rect x="192.0" y="146.92" width="2.80" height="20.7" fill="#108a24"/>
<rect x="193.18" y="146.92" width="0.58" height="20.7" fill="#3c984b"/>
<rect x="196.6" y="146.92" width="1.20" height="20.7" fill="#249a3c"/>
<rect x="200.0" y="146.92" width="2.80" height="20.7" fill="#40a056"/>
<rect x="201.06" y="146.92" width="0.98" height="20.7" fill="#60a870"/>
<rect x="205.5" y="146.92" width="1.60" height="20.7" fill="#249a3c"/>
<rect x="207.7" y="146.92" width="1.20" height="20.7" fill="#249a3c"/>
<rect x="211.7" y="146.92" width="1.10" height="20.7" fill="#249a3c"/>
<rect x="213.5" y="146.92" width="1.60" height="20.7" fill="#80b840"/>
<rect x="215.1" y="146.92" width="2.90" height="20.7" fill="#40a056"/>
<rect x="216.33" y="146.92" width="0.62" height="20.7" fill="#60a870"/>
<rect x="218.0" y="146.92" width="1.20" height="20.7" fill="#7eb66c"/>
<rect x="219.2" y="146.92" width="3.80" height="20.7" fill="#40a056"/>
<rect x="220.29" y="146.92" width="0.68" height="20.7" fill="#60a870"/>
<rect x="223.0" y="146.92" width="1.20" height="20.7" fill="#7eb66c"/>
<rect x="224.2" y="146.92" width="3.20" height="20.7" fill="#40a056"/>
<rect x="225.33" y="146.92" width="0.74" height="20.7" fill="#60a870"/>
<rect x="228.9" y="146.92" width="1.90" height="20.7" fill="#40a056"/>
<rect x="232.8" y="146.92" width="1.50" height="20.7" fill="#249a3c"/>
<rect x="235.4" y="146.92" width="1.20" height="20.7" fill="#249a3c"/>
<rect x="237.4" y="146.92" width="2.30" height="20.7" fill="#80b840"/>
<rect x="240.5" y="146.92" width="1.00" height="20.7" fill="#249a3c"/>
<rect x="246.6" y="146.92" width="3.90" height="20.7" fill="#40a056"/>
<rect x="247.62" y="146.92" width="0.75" height="20.7" fill="#60a870"/>
<rect x="256.6" y="146.92" width="1.60" height="20.7" fill="#249a3c"/>
<rect x="259.4" y="146.92" width="1.50" height="20.7" fill="#249a3c"/>
<rect x="264.3" y="146.92" width="1.50" height="20.7" fill="#249a3c"/>
<rect x="267.1" y="146.92" width="1.20" height="20.7" fill="#80b840"/>
<rect x="280.0" y="146.92" width="1.50" height="20.7" fill="#249a3c"/>
<rect x="284.6" y="146.92" width="1.60" height="20.7" fill="#249a3c"/>
<rect x="298.0" y="146.92" width="1.50" height="20.7" fill="#249a3c"/>
<rect x="300.8" y="146.92" width="1.50" height="20.7" fill="#249a3c"/>
<rect x="304.6" y="146.92" width="3.90" height="20.7" fill="#40a056"/>
<rect x="305.66" y="146.92" width="0.54" height="20.7" fill="#60a870"/>
<rect x="309.7" y="146.92" width="1.80" height="20.7" fill="#249a3c"/>
<rect x="314.6" y="146.92" width="4.30" height="20.7" fill="#40a056"/>
<rect x="315.53" y="146.92" width="0.51" height="20.7" fill="#60a870"/>
<rect x="317.60" y="146.92" width="0.62" height="20.7" fill="#60a870"/>
<rect x="320.8" y="146.92" width="6.90" height="20.7" fill="#40a056"/>
<rect x="322.02" y="146.92" width="0.88" height="20.7" fill="#60a870"/>
<rect x="324.88" y="146.92" width="0.86" height="20.7" fill="#60a870"/>
<rect x="328.2" y="146.92" width="0.90" height="20.7" fill="#40a056"/>
<rect x="329.6" y="146.92" width="1.50" height="20.7" fill="#249a3c"/>
<rect x="351.0" y="146.92" width="1.50" height="20.7" fill="#249a3c"/>
<rect x="362.1" y="146.92" width="1.70" height="20.7" fill="#249a3c"/>
<rect x="366.0" y="146.92" width="1.90" height="20.7" fill="#249a3c"/>
<rect x="374.0" y="146.92" width="1.70" height="20.7" fill="#249a3c"/>
<rect x="379.1" y="146.92" width="1.90" height="20.7" fill="#108a24"/>
<rect x="385.9" y="146.92" width="1.90" height="20.7" fill="#249a3c"/>
<rect x="398.0" y="146.92" width="1.00" height="20.7" fill="#249a3c"/>
<text x="36.1" y="159.72" font-family="Liberation Sans, sans-serif" font-size="6.7" text-anchor="end" fill="#222" stroke="#222" stroke-width="0.08">Chr5</text>
<rect x="38.6" y="177.70" width="300.70" height="20.7" fill="#c0c0c0"/>
<rect x="38.3" y="177.70" width="1.50" height="20.7" fill="#249a3c"/>
<rect x="41.8" y="177.70" width="2.20" height="20.7" fill="#40a056"/>
<rect x="44.5" y="177.70" width="4.60" height="20.7" fill="#108a24"/>
<rect x="45.63" y="177.70" width="0.66" height="20.7" fill="#3c984b"/>
<rect x="49.8" y="177.70" width="3.40" height="20.7" fill="#40a056"/>
<rect x="50.79" y="177.70" width="0.86" height="20.7" fill="#60a870"/>
<rect x="64.5" y="177.70" width="1.50" height="20.7" fill="#249a3c"/>
<rect x="72.9" y="177.70" width="1.90" height="20.7" fill="#249a3c"/>
<rect x="76.0" y="177.70" width="1.50" height="20.7" fill="#249a3c"/>
<rect x="82.9" y="177.70" width="5.40" height="20.7" fill="#40a056"/>
<rect x="83.83" y="177.70" width="0.92" height="20.7" fill="#60a870"/>
<rect x="87.01" y="177.70" width="0.81" height="20.7" fill="#60a870"/>
<rect x="89.8" y="177.70" width="1.90" height="20.7" fill="#80b840"/>
<rect x="92.6" y="177.70" width="1.60" height="20.7" fill="#249a3c"/>
<rect x="95.2" y="177.70" width="1.60" height="20.7" fill="#249a3c"/>
<rect x="97.8" y="177.70" width="1.30" height="20.7" fill="#249a3c"/>
<rect x="100.6" y="177.70" width="1.60" height="20.7" fill="#80b840"/>
<rect x="103.4" y="177.70" width="1.10" height="20.7" fill="#249a3c"/>
<rect x="105.5" y="177.70" width="1.60" height="20.7" fill="#80b840"/>
<rect x="108.0" y="177.70" width="1.50" height="20.7" fill="#40a056"/>
<rect x="110.6" y="177.70" width="2.30" height="20.7" fill="#40a056"/>
<rect x="114.5" y="177.70" width="1.80" height="20.7" fill="#7eb66c"/>
<rect x="117.1" y="177.70" width="3.80" height="20.7" fill="#40a056"/>
<rect x="118.49" y="177.70" width="0.57" height="20.7" fill="#60a870"/>
<rect x="121.4" y="177.70" width="1.10" height="20.7" fill="#249a3c"/>
<rect x="124.0" y="177.70" width="2.00" height="20.7" fill="#f8b028"/>
<rect x="127.1" y="177.70" width="1.50" height="20.7" fill="#249a3c"/>
<rect x="129.4" y="177.70" width="1.50" height="20.7" fill="#249a3c"/>
<rect x="132.8" y="177.70" width="1.50" height="20.7" fill="#249a3c"/>
<rect x="135.8" y="177.70" width="2.00" height="20.7" fill="#249a3c"/>
<rect x="140.9" y="177.70" width="2.00" height="20.7" fill="#7eb66c"/>
<rect x="145.5" y="177.70" width="1.60" height="20.7" fill="#249a3c"/>
<rect x="148.2" y="177.70" width="1.50" height="20.7" fill="#249a3c"/>
<rect x="150.6" y="177.70" width="1.60" height="20.7" fill="#249a3c"/>
<rect x="153.2" y="177.70" width="1.60" height="20.7" fill="#249a3c"/>
<rect x="156.3" y="177.70" width="2.00" height="20.7" fill="#7eb66c"/>
<rect x="159.8" y="177.70" width="1.60" height="20.7" fill="#249a3c"/>
<rect x="162.9" y="177.70" width="1.10" height="20.7" fill="#249a3c"/>
<rect x="165.5" y="177.70" width="1.60" height="20.7" fill="#249a3c"/>
<rect x="170.9" y="177.70" width="1.60" height="20.7" fill="#249a3c"/>
<rect x="173.2" y="177.70" width="1.10" height="20.7" fill="#249a3c"/>
<rect x="175.8" y="177.70" width="1.60" height="20.7" fill="#249a3c"/>
<rect x="182.0" y="177.70" width="1.50" height="20.7" fill="#249a3c"/>
<rect x="190.9" y="177.70" width="1.60" height="20.7" fill="#249a3c"/>
<rect x="193.8" y="177.70" width="2.00" height="20.7" fill="#40a056"/>
<rect x="197.4" y="177.70" width="3.50" height="20.7" fill="#40a056"/>
<rect x="198.60" y="177.70" width="0.92" height="20.7" fill="#60a870"/>
<rect x="202.0" y="177.70" width="3.50" height="20.7" fill="#108a24"/>
<rect x="203.40" y="177.70" width="0.79" height="20.7" fill="#3c984b"/>
<rect x="207.4" y="177.70" width="1.80" height="20.7" fill="#249a3c"/>
<rect x="209.7" y="177.70" width="3.10" height="20.7" fill="#40a056"/>
<rect x="211.01" y="177.70" width="0.85" height="20.7" fill="#60a870"/>
<rect x="219.7" y="177.70" width="2.30" height="20.7" fill="#249a3c"/>
<rect x="225.1" y="177.70" width="2.00" height="20.7" fill="#249a3c"/>
<rect x="228.6" y="177.70" width="1.60" height="20.7" fill="#108a24"/>
<rect x="232.8" y="177.70" width="1.00" height="20.7" fill="#80b840"/>
<rect x="236.6" y="177.70" width="1.20" height="20.7" fill="#249a3c"/>
<rect x="238.9" y="177.70" width="1.60" height="20.7" fill="#249a3c"/>
<rect x="241.2" y="177.70" width="1.30" height="20.7" fill="#249a3c"/>
<rect x="245.8" y="177.70" width="1.30" height="20.7" fill="#80b840"/>
<rect x="296.2" y="177.70" width="3.30" height="20.7" fill="#108a24"/>
<rect x="297.12" y="177.70" width="0.57" height="20.7" fill="#3c984b"/>
<rect x="299.5" y="177.70" width="7.40" height="20.7" fill="#40a056"/>
<rect x="300.46" y="177.70" width="0.92" height="20.7" fill="#60a870"/>
<rect x="303.25" y="177.70" width="0.81" height="20.7" fill="#60a870"/>
<rect x="308.5" y="177.70" width="3.30" height="20.7" fill="#40a056"/>
<rect x="309.81" y="177.70" width="0.74" height="20.7" fill="#60a870"/>
<rect x="313.1" y="177.70" width="1.80" height="20.7" fill="#249a3c"/>
<rect x="316.5" y="177.70" width="2.00" height="20.7" fill="#40a056"/>
<rect x="318.5" y="177.70" width="3.00" height="20.7" fill="#64ae6e"/>
<rect x="321.5" y="177.70" width="1.70" height="20.7" fill="#40a056"/>
<rect x="323.6" y="177.70" width="1.70" height="20.7" fill="#249a3c"/>
<rect x="325.7" y="177.70" width="2.10" height="20.7" fill="#40a056"/>
<rect x="330.3" y="177.70" width="3.70" height="20.7" fill="#40a056"/>
<rect x="331.68" y="177.70" width="0.87" height="20.7" fill="#60a870"/>
<rect x="337.4" y="177.70" width="1.90" height="20.7" fill="#40a056"/>
<rect x="254.5" y="177.70" width="1.70" height="20.7" fill="#108a24"/>
<rect x="258.0" y="177.70" width="3.40" height="20.7" fill="#40a056"/>
<rect x="259.22" y="177.70" width="0.83" height="20.7" fill="#60a870"/>
<rect x="262.3" y="177.70" width="2.20" height="20.7" fill="#40a056"/>
<rect x="264.5" y="177.70" width="4.00" height="20.7" fill="#64ae6e"/>
<rect x="268.5" y="177.70" width="2.40" height="20.7" fill="#40a056"/>
<rect x="272.0" y="177.70" width="1.50" height="20.7" fill="#249a3c"/>
<rect x="275.0" y="177.70" width="2.00" height="20.7" fill="#40a056"/>
<rect x="277.0" y="177.70" width="2.00" height="20.7" fill="#64ae6e"/>
<rect x="279.0" y="177.70" width="1.90" height="20.7" fill="#40a056"/>
<rect x="282.9" y="177.70" width="3.00" height="20.7" fill="#40a056"/>
<rect x="284.24" y="177.70" width="0.63" height="20.7" fill="#60a870"/>
<rect x="286.8" y="177.70" width="1.40" height="20.7" fill="#249a3c"/>
<rect x="290.0" y="177.70" width="1.10" height="20.7" fill="#249a3c"/>
<rect x="292.3" y="177.70" width="2.70" height="20.7" fill="#40a056"/>
<rect x="293.36" y="177.70" width="0.86" height="20.7" fill="#60a870"/>
<text x="36.1" y="190.50" font-family="Liberation Sans, sans-serif" font-size="6.7" text-anchor="end" fill="#222" stroke="#222" stroke-width="0.08">Chr6</text>
<rect x="38.6" y="208.48" width="333.20" height="20.7" fill="#c0c0c0"/>
<rect x="38.8" y="208.48" width="1.00" height="20.7" fill="#249a3c"/>
<rect x="42.9" y="208.48" width="2.00" height="20.7" fill="#40a056"/>
<rect x="46.8" y="208.48" width="1.50" height="20.7" fill="#249a3c"/>
<rect x="50.2" y="208.48" width="1.80" height="20.7" fill="#108a24"/>
<rect x="52.0" y="208.48" width="2.20" height="20.7" fill="#40a056"/>
<rect x="56.0" y="208.48" width="1.50" height="20.7" fill="#249a3c"/>
<rect x="59.1" y="208.48" width="1.20" height="20.7" fill="#249a3c"/>
<rect x="61.8" y="208.48" width="1.60" height="20.7" fill="#249a3c"/>
<rect x="71.1" y="208.48" width="1.80" height="20.7" fill="#249a3c"/>
<rect x="74.8" y="208.48" width="1.20" height="20.7" fill="#249a3c"/>
<rect x="77.8" y="208.48" width="3.10" height="20.7" fill="#40a056"/>
<rect x="79.14" y="208.48" width="0.99" height="20.7" fill="#60a870"/>
<rect x="82.9" y="208.48" width="6.90" height="20.7" fill="#40a056"/>
<rect x="84.03" y="208.48" width="0.74" height="20.7" fill="#60a870"/>
<rect x="86.79" y="208.48" width="0.88" height="20.7" fill="#60a870"/>
<rect x="92.6" y="208.48" width="3.40" height="20.7" fill="#108a24"/>
<rect x="93.89" y="208.48" width="0.54" height="20.7" fill="#3c984b"/>
<rect x="97.5" y="208.48" width="1.60" height="20.7" fill="#249a3c"/>
<rect x="100.6" y="208.48" width="2.90" height="20.7" fill="#108a24"/>
<rect x="101.65" y="208.48" width="0.87" height="20.7" fill="#3c984b"/>
<rect x="103.5" y="208.48" width="3.30" height="20.7" fill="#40a056"/>
<rect x="104.74" y="208.48" width="0.51" height="20.7" fill="#60a870"/>
<rect x="108.2" y="208.48" width="2.70" height="20.7" fill="#108a24"/>
<rect x="109.26" y="208.48" width="0.84" height="20.7" fill="#3c984b"/>
<rect x="111.8" y="208.48" width="1.20" height="20.7" fill="#249a3c"/>
<rect x="114.5" y="208.48" width="1.50" height="20.7" fill="#80b840"/>
<rect x="114.5" y="208.48" width="1.00" height="20.7" fill="#80b840"/>
<rect x="115.5" y="208.48" width="3.10" height="20.7" fill="#108a24"/>
<rect x="116.81" y="208.48" width="0.65" height="20.7" fill="#3c984b"/>
<rect x="118.6" y="208.48" width="0.20" height="20.7" fill="#108a24"/>
<rect x="118.8" y="208.48" width="1.10" height="20.7" fill="#e8e614"/>
<rect x="119.9" y="208.48" width="2.10" height="20.7" fill="#249a3c"/>
<rect x="122.0" y="208.48" width="1.50" height="20.7" fill="#5caa34"/>
<rect x="124.8" y="208.48" width="3.20" height="20.7" fill="#40a056"/>
<rect x="125.98" y="208.48" width="0.73" height="20.7" fill="#60a870"/>
<rect x="131.7" y="208.48" width="1.50" height="20.7" fill="#249a3c"/>
<rect x="135.5" y="208.48" width="1.60" height="20.7" fill="#249a3c"/>
<rect x="138.9" y="208.48" width="5.90" height="20.7" fill="#40a056"/>
<rect x="140.34" y="208.48" width="0.60" height="20.7" fill="#60a870"/>
<rect x="143.31" y="208.48" width="0.97" height="20.7" fill="#60a870"/>
<rect x="148.2" y="208.48" width="5.00" height="20.7" fill="#40a056"/>
<rect x="149.38" y="208.48" width="0.91" height="20.7" fill="#60a870"/>
<rect x="156.8" y="208.48" width="1.50" height="20.7" fill="#249a3c"/>
<rect x="159.8" y="208.48" width="1.60" height="20.7" fill="#249a3c"/>
<rect x="162.9" y="208.48" width="4.20" height="20.7" fill="#40a056"/>
<rect x="164.07" y="208.48" width="0.63" height="20.7" fill="#60a870"/>
<rect x="168.2" y="208.48" width="1.20" height="20.7" fill="#249a3c"/>
<rect x="170.9" y="208.48" width="4.90" height="20.7" fill="#40a056"/>
<rect x="172.37" y="208.48" width="0.61" height="20.7" fill="#60a870"/>
<rect x="177.8" y="208.48" width="1.40" height="20.7" fill="#249a3c"/>
<rect x="183.5" y="208.48" width="1.60" height="20.7" fill="#249a3c"/>
<rect x="186.6" y="208.48" width="2.00" height="20.7" fill="#40a056"/>
<rect x="190.1" y="208.48" width="1.60" height="20.7" fill="#249a3c"/>
<rect x="193.0" y="208.48" width="1.60" height="20.7" fill="#249a3c"/>
<rect x="198.5" y="208.48" width="1.20" height="20.7" fill="#249a3c"/>
<rect x="200.9" y="208.48" width="1.60" height="20.7" fill="#249a3c"/>
<rect x="206.6" y="208.48" width="3.10" height="20.7" fill="#40a056"/>
<rect x="207.59" y="208.48" width="0.76" height="20.7" fill="#60a870"/>
<rect x="212.8" y="208.48" width="7.20" height="20.7" fill="#40a056"/>
<rect x="213.78" y="208.48" width="0.91" height="20.7" fill="#60a870"/>
<rect x="216.50" y="208.48" width="0.94" height="20.7" fill="#60a870"/>
<rect x="223.1" y="208.48" width="2.40" height="20.7" fill="#108a24"/>
<rect x="224.14" y="208.48" width="0.95" height="20.7" fill="#3c984b"/>
<rect x="227.4" y="208.48" width="4.60" height="20.7" fill="#40a056"/>
<rect x="228.31" y="208.48" width="0.50" height="20.7" fill="#60a870"/>
<rect x="230.61" y="208.48" width="0.73" height="20.7" fill="#60a870"/>
<rect x="232.8" y="208.48" width="1.00" height="20.7" fill="#7eb66c"/>
<rect x="242.8" y="208.48" width="1.20" height="20.7" fill="#249a3c"/>
<rect x="244.6" y="208.48" width="2.00" height="20.7" fill="#40a056"/>
<rect x="252.8" y="208.48" width="1.00" height="20.7" fill="#249a3c"/>
<rect x="257.4" y="208.48" width="1.50" height="20.7" fill="#7eb66c"/>
<rect x="262.0" y="208.48" width="1.10" height="20.7" fill="#7eb66c"/>
<rect x="264.0" y="208.48" width="1.50" height="20.7" fill="#249a3c"/>
<rect x="267.7" y="208.48" width="1.20" height="20.7" fill="#249a3c"/>
<rect x="274.6" y="208.48" width="1.20" height="20.7" fill="#249a3c"/>
<rect x="276.9" y="208.48" width="1.10" height="20.7" fill="#249a3c"/>
<rect x="284.6" y="208.48" width="4.20" height="20.7" fill="#108a24"/>
<rect x="285.58" y="208.48" width="0.67" height="20.7" fill="#3c984b"/>
<rect x="291.8" y="208.48" width="1.30" height="20.7" fill="#249a3c"/>
<rect x="295.8" y="208.48" width="1.10" height="20.7" fill="#249a3c"/>
<rect x="298.0" y="208.48" width="2.80" height="20.7" fill="#40a056"/>
<rect x="299.40" y="208.48" width="0.50" height="20.7" fill="#60a870"/>
<rect x="305.1" y="208.48" width="1.50" height="20.7" fill="#249a3c"/>
<rect x="309.7" y="208.48" width="1.50" height="20.7" fill="#249a3c"/>
<rect x="311.2" y="208.48" width="1.90" height="20.7" fill="#7eb66c"/>
<rect x="315.8" y="208.48" width="1.60" height="20.7" fill="#249a3c"/>
<rect x="318.9" y="208.48" width="1.60" height="20.7" fill="#249a3c"/>
<rect x="322.0" y="208.48" width="1.10" height="20.7" fill="#249a3c"/>
<rect x="324.2" y="208.48" width="1.50" height="20.7" fill="#249a3c"/>
<rect x="328.8" y="208.48" width="2.40" height="20.7" fill="#108a24"/>
<rect x="332.8" y="208.48" width="2.00" height="20.7" fill="#108a24"/>
<rect x="338.2" y="208.48" width="1.60" height="20.7" fill="#249a3c"/>
<rect x="342.8" y="208.48" width="2.10" height="20.7" fill="#40a056"/>
<rect x="347.1" y="208.48" width="1.90" height="20.7" fill="#80b840"/>
<rect x="351.0" y="208.48" width="5.00" height="20.7" fill="#40a056"/>
<rect x="352.40" y="208.48" width="0.56" height="20.7" fill="#60a870"/>
<rect x="356.0" y="208.48" width="5.70" height="20.7" fill="#108a24"/>
<rect x="357.33" y="208.48" width="0.95" height="20.7" fill="#3c984b"/>
<rect x="359.83" y="208.48" width="0.69" height="20.7" fill="#3c984b"/>
<rect x="363.2" y="208.48" width="1.90" height="20.7" fill="#108a24"/>
<rect x="366.5" y="208.48" width="3.80" height="20.7" fill="#108a24"/>
<rect x="368.00" y="208.48" width="0.79" height="20.7" fill="#3c984b"/>
<rect x="370.3" y="208.48" width="1.50" height="20.7" fill="#80b840"/>
<text x="36.1" y="221.28" font-family="Liberation Sans, sans-serif" font-size="6.7" text-anchor="end" fill="#222" stroke="#222" stroke-width="0.08">Chr7</text>
<rect x="38.6" y="239.26" width="291.00" height="20.7" fill="#c0c0c0"/>
<rect x="159.4" y="239.26" width="3.10" height="20.7" fill="#40a056"/>
<rect x="160.56" y="239.26" width="0.64" height="20.7" fill="#60a870"/>
<rect x="168.6" y="239.26" width="1.60" height="20.7" fill="#249a3c"/>
<rect x="170.9" y="239.26" width="1.90" height="20.7" fill="#249a3c"/>
<rect x="174.0" y="239.26" width="3.40" height="20.7" fill="#40a056"/>
<rect x="174.96" y="239.26" width="0.92" height="20.7" fill="#60a870"/>
<rect x="179.8" y="239.26" width="1.90" height="20.7" fill="#249a3c"/>
<rect x="184.0" y="239.26" width="2.60" height="20.7" fill="#40a056"/>
<rect x="185.46" y="239.26" width="0.62" height="20.7" fill="#60a870"/>
<rect x="187.1" y="239.26" width="2.00" height="20.7" fill="#80b840"/>
<rect x="189.4" y="239.26" width="4.40" height="20.7" fill="#40a056"/>
<rect x="190.61" y="239.26" width="0.59" height="20.7" fill="#60a870"/>
<rect x="195.4" y="239.26" width="1.20" height="20.7" fill="#249a3c"/>
<rect x="198.2" y="239.26" width="1.50" height="20.7" fill="#249a3c"/>
<rect x="201.2" y="239.26" width="3.40" height="20.7" fill="#40a056"/>
<rect x="202.67" y="239.26" width="0.94" height="20.7" fill="#60a870"/>
<rect x="205.8" y="239.26" width="1.60" height="20.7" fill="#249a3c"/>
<rect x="208.9" y="239.26" width="2.30" height="20.7" fill="#108a24"/>
<rect x="212.0" y="239.26" width="2.30" height="20.7" fill="#40a056"/>
<rect x="215.1" y="239.26" width="3.80" height="20.7" fill="#108a24"/>
<rect x="216.38" y="239.26" width="0.96" height="20.7" fill="#3c984b"/>
<rect x="221.2" y="239.26" width="1.60" height="20.7" fill="#249a3c"/>
<rect x="223.5" y="239.26" width="6.20" height="20.7" fill="#40a056"/>
<rect x="224.73" y="239.26" width="0.86" height="20.7" fill="#60a870"/>
<rect x="226.85" y="239.26" width="0.87" height="20.7" fill="#60a870"/>
<rect x="232.0" y="239.26" width="1.50" height="20.7" fill="#249a3c"/>
<rect x="239.7" y="239.26" width="6.10" height="20.7" fill="#40a056"/>
<rect x="241.05" y="239.26" width="0.82" height="20.7" fill="#60a870"/>
<rect x="243.42" y="239.26" width="0.52" height="20.7" fill="#60a870"/>
<rect x="250.5" y="239.26" width="1.80" height="20.7" fill="#249a3c"/>
<rect x="255.4" y="239.26" width="2.00" height="20.7" fill="#249a3c"/>
<rect x="261.2" y="239.26" width="1.60" height="20.7" fill="#249a3c"/>
<rect x="265.1" y="239.26" width="3.50" height="20.7" fill="#40a056"/>
<rect x="266.08" y="239.26" width="0.74" height="20.7" fill="#60a870"/>
<rect x="270.5" y="239.26" width="1.50" height="20.7" fill="#249a3c"/>
<rect x="270.8" y="239.26" width="1.50" height="20.7" fill="#249a3c"/>
<rect x="278.0" y="239.26" width="4.60" height="20.7" fill="#40a056"/>
<rect x="279.08" y="239.26" width="0.87" height="20.7" fill="#60a870"/>
<rect x="284.2" y="239.26" width="3.00" height="20.7" fill="#40a056"/>
<rect x="285.26" y="239.26" width="0.83" height="20.7" fill="#60a870"/>
<rect x="292.8" y="239.26" width="1.80" height="20.7" fill="#249a3c"/>
<rect x="295.8" y="239.26" width="3.10" height="20.7" fill="#40a056"/>
<rect x="297.03" y="239.26" width="0.70" height="20.7" fill="#60a870"/>
<rect x="299.2" y="239.26" width="1.60" height="20.7" fill="#80b840"/>
<rect x="303.1" y="239.26" width="3.80" height="20.7" fill="#40a056"/>
<rect x="304.10" y="239.26" width="0.60" height="20.7" fill="#60a870"/>
<rect x="311.8" y="239.26" width="6.20" height="20.7" fill="#108a24"/>
<rect x="313.00" y="239.26" width="0.61" height="20.7" fill="#3c984b"/>
<rect x="315.90" y="239.26" width="1.00" height="20.7" fill="#3c984b"/>
<rect x="325.7" y="239.26" width="1.50" height="20.7" fill="#249a3c"/>
<rect x="328.5" y="239.26" width="1.10" height="20.7" fill="#7eb66c"/>
<rect x="38.7" y="239.26" width="1.40" height="20.7" fill="#249a3c"/>
<rect x="42.8" y="239.26" width="1.40" height="20.7" fill="#249a3c"/>
<rect x="46.0" y="239.26" width="1.60" height="20.7" fill="#40a056"/>
<rect x="47.9" y="239.26" width="1.70" height="20.7" fill="#40a056"/>
<rect x="51.1" y="239.26" width="3.70" height="20.7" fill="#40a056"/>
<rect x="52.08" y="239.26" width="0.60" height="20.7" fill="#60a870"/>
<rect x="56.0" y="239.26" width="3.50" height="20.7" fill="#40a056"/>
<rect x="57.11" y="239.26" width="0.55" height="20.7" fill="#60a870"/>
<rect x="59.5" y="239.26" width="1.30" height="20.7" fill="#7eb66c"/>
<rect x="60.8" y="239.26" width="1.40" height="20.7" fill="#108a24"/>
<rect x="62.7" y="239.26" width="1.40" height="20.7" fill="#108a24"/>
<rect x="64.9" y="239.26" width="1.40" height="20.7" fill="#249a3c"/>
<rect x="66.8" y="239.26" width="1.90" height="20.7" fill="#40a056"/>
<rect x="74.0" y="239.26" width="1.80" height="20.7" fill="#40a056"/>
<rect x="75.8" y="239.26" width="1.40" height="20.7" fill="#108a24"/>
<rect x="77.2" y="239.26" width="1.60" height="20.7" fill="#40a056"/>
<rect x="80.7" y="239.26" width="1.10" height="20.7" fill="#249a3c"/>
<rect x="85.6" y="239.26" width="1.50" height="20.7" fill="#249a3c"/>
<rect x="88.1" y="239.26" width="2.20" height="20.7" fill="#40a056"/>
<rect x="91.9" y="239.26" width="2.50" height="20.7" fill="#7eb66c"/>
<rect x="94.4" y="239.26" width="0.90" height="20.7" fill="#7eb66c"/>
<rect x="95.6" y="239.26" width="2.80" height="20.7" fill="#249a3c"/>
<rect x="96.66" y="239.26" width="0.78" height="20.7" fill="#4ba45d"/>
<rect x="100.3" y="239.26" width="2.40" height="20.7" fill="#249a3c"/>
<rect x="101.65" y="239.26" width="0.71" height="20.7" fill="#4ba45d"/>
<rect x="104.7" y="239.26" width="2.20" height="20.7" fill="#80b840"/>
<rect x="108.7" y="239.26" width="2.50" height="20.7" fill="#40a056"/>
<rect x="109.91" y="239.26" width="0.69" height="20.7" fill="#60a870"/>
<rect x="111.4" y="239.26" width="4.40" height="20.7" fill="#108a24"/>
<rect x="112.34" y="239.26" width="0.64" height="20.7" fill="#3c984b"/>
<rect x="116.9" y="239.26" width="3.80" height="20.7" fill="#40a056"/>
<rect x="117.88" y="239.26" width="0.75" height="20.7" fill="#60a870"/>
<rect x="123.5" y="239.26" width="2.10" height="20.7" fill="#249a3c"/>
<rect x="127.0" y="239.26" width="2.80" height="20.7" fill="#108a24"/>
<rect x="128.42" y="239.26" width="0.61" height="20.7" fill="#3c984b"/>
<rect x="132.2" y="239.26" width="1.60" height="20.7" fill="#40a056"/>
<rect x="134.1" y="239.26" width="1.10" height="20.7" fill="#40a056"/>
<rect x="135.7" y="239.26" width="1.10" height="20.7" fill="#40a056"/>
<rect x="137.6" y="239.26" width="1.10" height="20.7" fill="#40a056"/>
<rect x="139.0" y="239.26" width="1.00" height="20.7" fill="#249a3c"/>
<rect x="142.5" y="239.26" width="4.40" height="20.7" fill="#40a056"/>
<rect x="143.55" y="239.26" width="0.70" height="20.7" fill="#60a870"/>
<rect x="148.5" y="239.26" width="2.20" height="20.7" fill="#108a24"/>
<rect x="151.3" y="239.26" width="2.70" height="20.7" fill="#40a056"/>
<rect x="152.77" y="239.26" width="0.92" height="20.7" fill="#60a870"/>
<text x="36.1" y="252.06" font-family="Liberation Sans, sans-serif" font-size="6.7" text-anchor="end" fill="#222" stroke="#222" stroke-width="0.08">Chr8</text>
<rect x="38.6" y="270.04" width="160.80" height="20.7" fill="#c0c0c0"/>
<rect x="38.8" y="270.04" width="2.70" height="20.7" fill="#108a24"/>
<rect x="39.71" y="270.04" width="0.52" height="20.7" fill="#3c984b"/>
<rect x="41.5" y="270.04" width="2.20" height="20.7" fill="#40a056"/>
<rect x="44.9" y="270.04" width="2.20" height="20.7" fill="#40a056"/>
<rect x="48.6" y="270.04" width="4.00" height="20.7" fill="#40a056"/>
<rect x="50.04" y="270.04" width="0.74" height="20.7" fill="#60a870"/>
<rect x="55.7" y="270.04" width="3.40" height="20.7" fill="#249a3c"/>
<rect x="56.60" y="270.04" width="0.70" height="20.7" fill="#4ba45d"/>
<rect x="59.8" y="270.04" width="3.10" height="20.7" fill="#40a056"/>
<rect x="61.20" y="270.04" width="0.93" height="20.7" fill="#60a870"/>
<rect x="64.5" y="270.04" width="1.50" height="20.7" fill="#249a3c"/>
<rect x="67.5" y="270.04" width="6.20" height="20.7" fill="#40a056"/>
<rect x="68.55" y="270.04" width="0.55" height="20.7" fill="#60a870"/>
<rect x="70.49" y="270.04" width="0.76" height="20.7" fill="#60a870"/>
<rect x="74.5" y="270.04" width="1.80" height="20.7" fill="#249a3c"/>
<rect x="77.8" y="270.04" width="5.60" height="20.7" fill="#40a056"/>
<rect x="79.26" y="270.04" width="0.86" height="20.7" fill="#60a870"/>
<rect x="82.10" y="270.04" width="0.88" height="20.7" fill="#60a870"/>
<rect x="84.5" y="270.04" width="3.80" height="20.7" fill="#40a056"/>
<rect x="85.73" y="270.04" width="0.52" height="20.7" fill="#60a870"/>
<rect x="89.5" y="270.04" width="1.60" height="20.7" fill="#40a056"/>
<rect x="92.2" y="270.04" width="2.30" height="20.7" fill="#40a056"/>
<rect x="94.5" y="270.04" width="1.50" height="20.7" fill="#80b840"/>
<rect x="97.5" y="270.04" width="7.00" height="20.7" fill="#40a056"/>
<rect x="98.54" y="270.04" width="0.96" height="20.7" fill="#60a870"/>
<rect x="101.47" y="270.04" width="0.65" height="20.7" fill="#60a870"/>
<rect x="103.48" y="270.04" width="0.63" height="20.7" fill="#60a870"/>
<rect x="106.0" y="270.04" width="5.40" height="20.7" fill="#108a24"/>
<rect x="107.32" y="270.04" width="0.56" height="20.7" fill="#3c984b"/>
<rect x="109.16" y="270.04" width="0.76" height="20.7" fill="#3c984b"/>
<rect x="112.6" y="270.04" width="4.20" height="20.7" fill="#40a056"/>
<rect x="113.73" y="270.04" width="0.61" height="20.7" fill="#60a870"/>
<rect x="114.0" y="270.04" width="2.80" height="20.7" fill="#108a24"/>
<rect x="114.91" y="270.04" width="0.65" height="20.7" fill="#3c984b"/>
<rect x="117.4" y="270.04" width="1.50" height="20.7" fill="#249a3c"/>
<rect x="120.9" y="270.04" width="2.00" height="20.7" fill="#249a3c"/>
<rect x="124.5" y="270.04" width="2.10" height="20.7" fill="#249a3c"/>
<rect x="128.2" y="270.04" width="4.00" height="20.7" fill="#40a056"/>
<rect x="129.68" y="270.04" width="0.82" height="20.7" fill="#60a870"/>
<rect x="135.5" y="270.04" width="1.60" height="20.7" fill="#249a3c"/>
<rect x="138.9" y="270.04" width="7.10" height="20.7" fill="#40a056"/>
<rect x="140.09" y="270.04" width="0.62" height="20.7" fill="#60a870"/>
<rect x="142.20" y="270.04" width="0.98" height="20.7" fill="#60a870"/>
<rect x="149.7" y="270.04" width="1.20" height="20.7" fill="#249a3c"/>
<rect x="151.7" y="270.04" width="2.00" height="20.7" fill="#40a056"/>
<rect x="155.5" y="270.04" width="1.90" height="20.7" fill="#108a24"/>
<rect x="159.4" y="270.04" width="1.50" height="20.7" fill="#249a3c"/>
<rect x="162.0" y="270.04" width="2.80" height="20.7" fill="#108a24"/>
<rect x="163.08" y="270.04" width="0.51" height="20.7" fill="#3c984b"/>
<rect x="165.9" y="270.04" width="3.20" height="20.7" fill="#108a24"/>
<rect x="167.20" y="270.04" width="0.71" height="20.7" fill="#3c984b"/>
<rect x="169.1" y="270.04" width="1.60" height="20.7" fill="#64ae6e"/>
<rect x="170.7" y="270.04" width="1.60" height="20.7" fill="#249a3c"/>
<rect x="172.3" y="270.04" width="2.70" height="20.7" fill="#64ae6e"/>
<rect x="175.0" y="270.04" width="2.10" height="20.7" fill="#40a056"/>
<rect x="175.2" y="270.04" width="1.90" height="20.7" fill="#249a3c"/>
<rect x="181.8" y="270.04" width="1.40" height="20.7" fill="#40a056"/>
<rect x="183.2" y="270.04" width="2.70" height="20.7" fill="#64ae6e"/>
<rect x="186.3" y="270.04" width="1.50" height="20.7" fill="#249a3c"/>
<rect x="189.4" y="270.04" width="4.60" height="20.7" fill="#40a056"/>
<rect x="190.70" y="270.04" width="0.96" height="20.7" fill="#60a870"/>
<rect x="192.0" y="270.04" width="4.30" height="20.7" fill="#108a24"/>
<rect x="192.92" y="270.04" width="0.67" height="20.7" fill="#3c984b"/>
<rect x="195.29" y="270.04" width="0.84" height="20.7" fill="#3c984b"/>
<rect x="197.4" y="270.04" width="2.00" height="20.7" fill="#40a056"/>
<text x="36.1" y="282.84" font-family="Liberation Sans, sans-serif" font-size="6.7" text-anchor="end" fill="#222" stroke="#222" stroke-width="0.08">Chr9</text>
<rect x="38.6" y="300.82" width="332.40" height="20.7" fill="#c0c0c0"/>
<rect x="38.8" y="300.82" width="4.60" height="20.7" fill="#40a056"/>
<rect x="40.18" y="300.82" width="0.87" height="20.7" fill="#60a870"/>
<rect x="45.2" y="300.82" width="1.30" height="20.7" fill="#249a3c"/>
<rect x="48.0" y="300.82" width="2.60" height="20.7" fill="#40a056"/>
<rect x="49.02" y="300.82" width="0.98" height="20.7" fill="#60a870"/>
<rect x="51.4" y="300.82" width="3.80" height="20.7" fill="#40a056"/>
<rect x="52.79" y="300.82" width="0.62" height="20.7" fill="#60a870"/>
<rect x="56.8" y="300.82" width="1.50" height="20.7" fill="#249a3c"/>
<rect x="59.8" y="300.82" width="2.00" height="20.7" fill="#249a3c"/>
<rect x="66.8" y="300.82" width="1.50" height="20.7" fill="#249a3c"/>
<rect x="71.1" y="300.82" width="2.60" height="20.7" fill="#249a3c"/>
<rect x="72.46" y="300.82" width="0.65" height="20.7" fill="#4ba45d"/>
<rect x="124.8" y="300.82" width="6.40" height="20.7" fill="#40a056"/>
<rect x="126.00" y="300.82" width="0.59" height="20.7" fill="#60a870"/>
<rect x="128.06" y="300.82" width="0.71" height="20.7" fill="#60a870"/>
<rect x="134.0" y="300.82" width="3.10" height="20.7" fill="#40a056"/>
<rect x="135.47" y="300.82" width="0.57" height="20.7" fill="#60a870"/>
<rect x="138.3" y="300.82" width="3.10" height="20.7" fill="#249a3c"/>
<rect x="139.33" y="300.82" width="0.99" height="20.7" fill="#4ba45d"/>
<rect x="150.6" y="300.82" width="4.20" height="20.7" fill="#40a056"/>
<rect x="151.53" y="300.82" width="0.53" height="20.7" fill="#60a870"/>
<rect x="153.73" y="300.82" width="0.95" height="20.7" fill="#60a870"/>
<rect x="154.8" y="300.82" width="2.00" height="20.7" fill="#e8e614"/>
<rect x="157.1" y="300.82" width="1.80" height="20.7" fill="#249a3c"/>
<rect x="160.2" y="300.82" width="2.30" height="20.7" fill="#108a24"/>
<rect x="163.5" y="300.82" width="1.60" height="20.7" fill="#c8d62a"/>
<rect x="165.5" y="300.82" width="6.50" height="20.7" fill="#40a056"/>
<rect x="166.84" y="300.82" width="1.00" height="20.7" fill="#60a870"/>
<rect x="170.16" y="300.82" width="0.66" height="20.7" fill="#60a870"/>
<rect x="172.0" y="300.82" width="6.00" height="20.7" fill="#108a24"/>
<rect x="173.46" y="300.82" width="0.87" height="20.7" fill="#3c984b"/>
<rect x="175.57" y="300.82" width="0.83" height="20.7" fill="#3c984b"/>
<rect x="178.0" y="300.82" width="3.00" height="20.7" fill="#40a056"/>
<rect x="179.12" y="300.82" width="0.67" height="20.7" fill="#60a870"/>
<rect x="181.0" y="300.82" width="4.50" height="20.7" fill="#108a24"/>
<rect x="181.90" y="300.82" width="0.64" height="20.7" fill="#3c984b"/>
<rect x="184.16" y="300.82" width="0.98" height="20.7" fill="#3c984b"/>
<rect x="186.0" y="300.82" width="1.00" height="20.7" fill="#c8d62a"/>
<rect x="187.0" y="300.82" width="1.60" height="20.7" fill="#e8e614"/>
<rect x="188.6" y="300.82" width="0.80" height="20.7" fill="#c8d62a"/>
<rect x="190.2" y="300.82" width="2.30" height="20.7" fill="#40a056"/>
<rect x="192.8" y="300.82" width="1.20" height="20.7" fill="#249a3c"/>
<rect x="192.0" y="300.82" width="1.50" height="20.7" fill="#7eb66c"/>
<rect x="193.8" y="300.82" width="4.70" height="20.7" fill="#108a24"/>
<rect x="195.28" y="300.82" width="0.60" height="20.7" fill="#3c984b"/>
<rect x="200.0" y="300.82" width="3.10" height="20.7" fill="#40a056"/>
<rect x="201.39" y="300.82" width="0.91" height="20.7" fill="#60a870"/>
<rect x="204.6" y="300.82" width="5.60" height="20.7" fill="#40a056"/>
<rect x="205.53" y="300.82" width="0.74" height="20.7" fill="#60a870"/>
<rect x="207.91" y="300.82" width="0.96" height="20.7" fill="#60a870"/>
<rect x="211.2" y="300.82" width="1.60" height="20.7" fill="#40a056"/>
<rect x="213.2" y="300.82" width="2.60" height="20.7" fill="#7eb66c"/>
<rect x="224.0" y="300.82" width="1.50" height="20.7" fill="#249a3c"/>
<rect x="227.1" y="300.82" width="1.50" height="20.7" fill="#249a3c"/>
<rect x="230.2" y="300.82" width="1.00" height="20.7" fill="#249a3c"/>
<rect x="232.3" y="300.82" width="1.50" height="20.7" fill="#249a3c"/>
<rect x="235.8" y="300.82" width="5.10" height="20.7" fill="#108a24"/>
<rect x="236.92" y="300.82" width="0.95" height="20.7" fill="#3c984b"/>
<rect x="239.10" y="300.82" width="0.71" height="20.7" fill="#3c984b"/>
<rect x="242.0" y="300.82" width="1.50" height="20.7" fill="#249a3c"/>
<rect x="244.0" y="300.82" width="4.20" height="20.7" fill="#108a24"/>
<rect x="245.36" y="300.82" width="0.52" height="20.7" fill="#3c984b"/>
<rect x="247.12" y="300.82" width="0.53" height="20.7" fill="#3c984b"/>
<rect x="248.6" y="300.82" width="4.60" height="20.7" fill="#40a056"/>
<rect x="249.65" y="300.82" width="0.87" height="20.7" fill="#60a870"/>
<rect x="253.8" y="300.82" width="10.50" height="20.7" fill="#108a24"/>
<rect x="254.90" y="300.82" width="0.64" height="20.7" fill="#3c984b"/>
<rect x="257.89" y="300.82" width="0.81" height="20.7" fill="#3c984b"/>
<rect x="260.21" y="300.82" width="0.86" height="20.7" fill="#3c984b"/>
<rect x="262.65" y="300.82" width="0.64" height="20.7" fill="#3c984b"/>
<rect x="265.5" y="300.82" width="2.70" height="20.7" fill="#108a24"/>
<rect x="266.85" y="300.82" width="0.96" height="20.7" fill="#3c984b"/>
<rect x="268.9" y="300.82" width="1.30" height="20.7" fill="#249a3c"/>
<rect x="272.1" y="300.82" width="1.60" height="20.7" fill="#249a3c"/>
<rect x="274.8" y="300.82" width="1.10" height="20.7" fill="#249a3c"/>
<rect x="277.0" y="300.82" width="1.00" height="20.7" fill="#249a3c"/>
<rect x="279.1" y="300.82" width="1.80" height="20.7" fill="#7eb66c"/>
<rect x="281.6" y="300.82" width="1.70" height="20.7" fill="#249a3c"/>
<rect x="284.9" y="300.82" width="6.00" height="20.7" fill="#40a056"/>
<rect x="286.37" y="300.82" width="0.51" height="20.7" fill="#60a870"/>
<rect x="288.36" y="300.82" width="0.74" height="20.7" fill="#60a870"/>
<rect x="292.5" y="300.82" width="2.20" height="20.7" fill="#108a24"/>
<rect x="298.0" y="300.82" width="1.60" height="20.7" fill="#249a3c"/>
<rect x="301.8" y="300.82" width="1.30" height="20.7" fill="#249a3c"/>
<rect x="306.7" y="300.82" width="1.90" height="20.7" fill="#249a3c"/>
<rect x="311.6" y="300.82" width="2.20" height="20.7" fill="#108a24"/>
<rect x="315.5" y="300.82" width="1.40" height="20.7" fill="#249a3c"/>
<rect x="318.7" y="300.82" width="1.40" height="20.7" fill="#249a3c"/>
<rect x="324.5" y="300.82" width="1.30" height="20.7" fill="#249a3c"/>
<rect x="328.0" y="300.82" width="2.00" height="20.7" fill="#249a3c"/>
<rect x="331.0" y="300.82" width="1.40" height="20.7" fill="#249a3c"/>
<rect x="333.6" y="300.82" width="1.40" height="20.7" fill="#249a3c"/>
<rect x="341.6" y="300.82" width="1.40" height="20.7" fill="#249a3c"/>
<rect x="344.4" y="300.82" width="1.20" height="20.7" fill="#249a3c"/>
<rect x="347.6" y="300.82" width="0.80" height="20.7" fill="#7eb66c"/>
<rect x="349.0" y="300.82" width="1.00" height="20.7" fill="#80b840"/>
<rect x="351.6" y="300.82" width="1.40" height="20.7" fill="#249a3c"/>
<rect x="355.0" y="300.82" width="1.00" height="20.7" fill="#249a3c"/>
<rect x="361.0" y="300.82" width="1.40" height="20.7" fill="#249a3c"/>
<rect x="364.0" y="300.82" width="1.60" height="20.7" fill="#249a3c"/>
<rect x="367.0" y="300.82" width="1.00" height="20.7" fill="#249a3c"/>
<rect x="369.6" y="300.82" width="1.40" height="20.7" fill="#249a3c"/>
<rect x="75.2" y="300.82" width="3.30" height="20.7" fill="#249a3c"/>
<rect x="76.67" y="300.82" width="0.69" height="20.7" fill="#4ba45d"/>
<rect x="78.5" y="300.82" width="1.50" height="20.7" fill="#40a056"/>
<rect x="80.0" y="300.82" width="0.60" height="20.7" fill="#7eb66c"/>
<rect x="80.6" y="300.82" width="2.00" height="20.7" fill="#108a24"/>
<rect x="82.6" y="300.82" width="1.40" height="20.7" fill="#40a056"/>
<rect x="84.0" y="300.82" width="3.00" height="20.7" fill="#249a3c"/>
<rect x="85.16" y="300.82" width="0.75" height="20.7" fill="#4ba45d"/>
<rect x="87.0" y="300.82" width="1.40" height="20.7" fill="#80b840"/>
<rect x="88.4" y="300.82" width="2.70" height="20.7" fill="#108a24"/>
<rect x="89.41" y="300.82" width="0.90" height="20.7" fill="#3c984b"/>
<rect x="94.3" y="300.82" width="5.00" height="20.7" fill="#108a24"/>
<rect x="95.69" y="300.82" width="0.89" height="20.7" fill="#3c984b"/>
<rect x="100.0" y="300.82" width="1.30" height="20.7" fill="#249a3c"/>
<rect x="102.0" y="300.82" width="2.00" height="20.7" fill="#108a24"/>
<rect x="104.9" y="300.82" width="3.10" height="20.7" fill="#108a24"/>
<rect x="106.00" y="300.82" width="0.66" height="20.7" fill="#3c984b"/>
<rect x="108.0" y="300.82" width="3.10" height="20.7" fill="#249a3c"/>
<rect x="109.37" y="300.82" width="0.54" height="20.7" fill="#4ba45d"/>
<rect x="114.0" y="300.82" width="3.00" height="20.7" fill="#40a056"/>
<rect x="115.35" y="300.82" width="0.62" height="20.7" fill="#60a870"/>
<rect x="117.0" y="300.82" width="1.40" height="20.7" fill="#108a24"/>
<rect x="120.0" y="300.82" width="2.00" height="20.7" fill="#108a24"/>
<text x="36.1" y="313.62" font-family="Liberation Sans, sans-serif" font-size="6.7" text-anchor="end" fill="#222" stroke="#222" stroke-width="0.08">Chr10</text>
<path d="M38.9 326.5H500.3" stroke="#000" stroke-width="1.1" fill="none"/>
<path d="M39.00 326V330.5" stroke="#000" stroke-width="1.1"/>
<text x="45.60" y="342.6" font-family="Liberation Serif, serif" font-size="9.3" text-anchor="middle" fill="#1a1a1a" stroke="#1a1a1a" stroke-width="0.2">0cM</text>
<path d="M90.25 326V330.5" stroke="#000" stroke-width="1.1"/>
<text x="96.85" y="342.6" font-family="Liberation Serif, serif" font-size="9.3" text-anchor="middle" fill="#1a1a1a" stroke="#1a1a1a" stroke-width="0.2">37cM</text>
<path d="M141.50 326V330.5" stroke="#000" stroke-width="1.1"/>
<text x="148.10" y="342.6" font-family="Liberation Serif, serif" font-size="9.3" text-anchor="middle" fill="#1a1a1a" stroke="#1a1a1a" stroke-width="0.2">73cM</text>
<path d="M192.75 326V330.5" stroke="#000" stroke-width="1.1"/>
<text x="199.35" y="342.6" font-family="Liberation Serif, serif" font-size="9.3" text-anchor="middle" fill="#1a1a1a" stroke="#1a1a1a" stroke-width="0.2">110cM</text>
<path d="M244.00 326V330.5" stroke="#000" stroke-width="1.1"/>
<text x="250.60" y="342.6" font-family="Liberation Serif, serif" font-size="9.3" text-anchor="middle" fill="#1a1a1a" stroke="#1a1a1a" stroke-width="0.2">147cM</text>
<path d="M295.25 326V330.5" stroke="#000" stroke-width="1.1"/>
<text x="301.85" y="342.6" font-family="Liberation Serif, serif" font-size="9.3" text-anchor="middle" fill="#1a1a1a" stroke="#1a1a1a" stroke-width="0.2">183cM</text>
<path d="M346.50 326V330.5" stroke="#000" stroke-width="1.1"/>
<text x="353.10" y="342.6" font-family="Liberation Serif, serif" font-size="9.3" text-anchor="middle" fill="#1a1a1a" stroke="#1a1a1a" stroke-width="0.2">220cM</text>
<path d="M397.75 326V330.5" stroke="#000" stroke-width="1.1"/>
<text x="404.35" y="342.6" font-family="Liberation Serif, serif" font-size="9.3" text-anchor="middle" fill="#1a1a1a" stroke="#1a1a1a" stroke-width="0.2">257cM</text>
<path d="M449.00 326V330.5" stroke="#000" stroke-width="1.1"/>
<text x="455.60" y="342.6" font-family="Liberation Serif, serif" font-size="9.3" text-anchor="middle" fill="#1a1a1a" stroke="#1a1a1a" stroke-width="0.2">293cM</text>
<path d="M500.25 326V330.5" stroke="#000" stroke-width="1.1"/>
<text x="506.85" y="342.6" font-family="Liberation Serif, serif" font-size="9.3" text-anchor="middle" fill="#1a1a1a" stroke="#1a1a1a" stroke-width="0.2">330cM</text>
<text x="286.5" y="358.6" font-family="Liberation Serif, serif" font-size="14" text-anchor="middle" fill="#000">Location</text>
<text transform="translate(13.6 168.3) rotate(-90)" font-family="Liberation Serif, serif" font-size="14" text-anchor="middle" fill="#000">Linkage group</text>
<text transform="translate(498.6 156.0) rotate(-90)" font-family="Liberation Serif, serif" font-size="14.7" text-anchor="middle" fill="#000">Density(cM/Locus)</text>
<rect x="509.1" y="74.1" width="14.6" height="12.5" fill="#c0c0c0"/>
<rect x="509.1" y="87.00" width="14.6" height="13.30" fill="#006400"/>
<rect x="509.1" y="100.25" width="14.6" height="13.30" fill="#008c00"/>
<rect x="509.1" y="113.51" width="14.6" height="13.30" fill="#3c9c14"/>
<rect x="509.1" y="126.76" width="14.6" height="13.30" fill="#96c31e"/>
<rect x="509.1" y="140.02" width="14.6" height="13.30" fill="#dce614"/>
<rect x="509.1" y="153.27" width="14.6" height="13.30" fill="#ffee00"/>
<rect x="509.1" y="166.53" width="14.6" height="13.30" fill="#ffbb00"/>
<rect x="509.1" y="179.78" width="14.6" height="13.30" fill="#ff8800"/>
<rect x="509.1" y="193.04" width="14.6" height="13.30" fill="#ff5500"/>
<rect x="509.1" y="206.29" width="14.6" height="13.30" fill="#ff2200"/>
<rect x="509.1" y="219.55" width="14.6" height="13.30" fill="#ff0000"/>
<text x="525.9" y="86.20" font-family="Liberation Sans, sans-serif" font-size="11" fill="#111">0</text>
<text x="525.9" y="99.29" font-family="Liberation Sans, sans-serif" font-size="11" fill="#111">1</text>
<text x="525.9" y="112.38" font-family="Liberation Sans, sans-serif" font-size="11" fill="#111">7</text>
<text x="525.9" y="125.47" font-family="Liberation Sans, sans-serif" font-size="11" fill="#111">13</text>
<text x="525.9" y="138.56" font-family="Liberation Sans, sans-serif" font-size="11" fill="#111">19</text>
<text x="525.9" y="151.65" font-family="Liberation Sans, sans-serif" font-size="11" fill="#111">25</text>
<text x="525.9" y="164.74" font-family="Liberation Sans, sans-serif" font-size="11" fill="#111">31</text>
<text x="525.9" y="177.83" font-family="Liberation Sans, sans-serif" font-size="11" fill="#111">37</text>
<text x="525.9" y="190.92" font-family="Liberation Sans, sans-serif" font-size="11" fill="#111">43</text>
<text x="525.9" y="204.01" font-family="Liberation Sans, sans-serif" font-size="11" fill="#111">49</text>
<text x="525.9" y="217.10" font-family="Liberation Sans, sans-serif" font-size="11" fill="#111">55</text>
<text x="525.9" y="230.19" font-family="Liberation Sans, sans-serif" font-size="11" fill="#111">&gt;55</text>
</svg></body></html>
